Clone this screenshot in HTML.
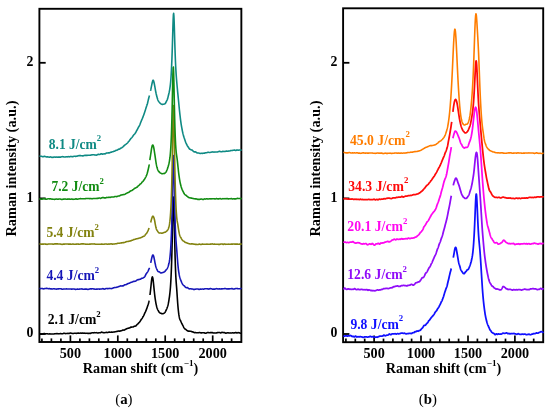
<!DOCTYPE html>
<html><head><meta charset="utf-8"><title>Raman spectra</title>
<style>
html,body{margin:0;padding:0;background:#fff;}
svg{display:block}
.t{font-family:"Liberation Serif","DejaVu Serif",serif;font-weight:bold;font-size:13.8px;}
.c{font-family:"Liberation Serif","DejaVu Serif",serif;font-size:14.8px;}
</style></head><body>
<svg width="550" height="412" viewBox="0 0 550 412">
<rect width="550" height="412" fill="#fff"/>
<rect x="39.4" y="8.8" width="201.95" height="333.20" fill="none" stroke="#000" stroke-width="1.9"/>
<line x1="41.9" y1="342.0" x2="41.9" y2="338.4" stroke="#000" stroke-width="1.7"/>
<line x1="51.4" y1="342.0" x2="51.4" y2="338.4" stroke="#000" stroke-width="1.7"/>
<line x1="60.9" y1="342.0" x2="60.9" y2="338.4" stroke="#000" stroke-width="1.7"/>
<line x1="70.4" y1="342.0" x2="70.4" y2="335.4" stroke="#000" stroke-width="1.7"/>
<line x1="79.9" y1="342.0" x2="79.9" y2="338.4" stroke="#000" stroke-width="1.7"/>
<line x1="89.4" y1="342.0" x2="89.4" y2="338.4" stroke="#000" stroke-width="1.7"/>
<line x1="98.8" y1="342.0" x2="98.8" y2="338.4" stroke="#000" stroke-width="1.7"/>
<line x1="108.3" y1="342.0" x2="108.3" y2="338.4" stroke="#000" stroke-width="1.7"/>
<line x1="117.8" y1="342.0" x2="117.8" y2="335.4" stroke="#000" stroke-width="1.7"/>
<line x1="127.3" y1="342.0" x2="127.3" y2="338.4" stroke="#000" stroke-width="1.7"/>
<line x1="136.8" y1="342.0" x2="136.8" y2="338.4" stroke="#000" stroke-width="1.7"/>
<line x1="146.3" y1="342.0" x2="146.3" y2="338.4" stroke="#000" stroke-width="1.7"/>
<line x1="155.8" y1="342.0" x2="155.8" y2="338.4" stroke="#000" stroke-width="1.7"/>
<line x1="165.2" y1="342.0" x2="165.2" y2="335.4" stroke="#000" stroke-width="1.7"/>
<line x1="174.7" y1="342.0" x2="174.7" y2="338.4" stroke="#000" stroke-width="1.7"/>
<line x1="184.2" y1="342.0" x2="184.2" y2="338.4" stroke="#000" stroke-width="1.7"/>
<line x1="193.7" y1="342.0" x2="193.7" y2="338.4" stroke="#000" stroke-width="1.7"/>
<line x1="203.2" y1="342.0" x2="203.2" y2="338.4" stroke="#000" stroke-width="1.7"/>
<line x1="212.7" y1="342.0" x2="212.7" y2="335.4" stroke="#000" stroke-width="1.7"/>
<line x1="222.1" y1="342.0" x2="222.1" y2="338.4" stroke="#000" stroke-width="1.7"/>
<line x1="231.6" y1="342.0" x2="231.6" y2="338.4" stroke="#000" stroke-width="1.7"/>
<line x1="39.4" y1="334.0" x2="45.7" y2="334.0" stroke="#000" stroke-width="1.8"/>
<text x="26.4" y="337.2" class="t" textLength="6.9" lengthAdjust="spacingAndGlyphs">0</text>
<line x1="39.4" y1="198.4" x2="45.7" y2="198.4" stroke="#000" stroke-width="1.8"/>
<text x="26.4" y="201.6" class="t" textLength="6.9" lengthAdjust="spacingAndGlyphs">1</text>
<line x1="39.4" y1="62.8" x2="45.7" y2="62.8" stroke="#000" stroke-width="1.8"/>
<text x="26.4" y="66.0" class="t" textLength="6.9" lengthAdjust="spacingAndGlyphs">2</text>
<text x="70.4" y="357.9" text-anchor="middle" class="t" textLength="21.3" lengthAdjust="spacingAndGlyphs">500</text>
<text x="117.8" y="357.9" text-anchor="middle" class="t" textLength="28.4" lengthAdjust="spacingAndGlyphs">1000</text>
<text x="165.2" y="357.9" text-anchor="middle" class="t" textLength="28.4" lengthAdjust="spacingAndGlyphs">1500</text>
<text x="212.7" y="357.9" text-anchor="middle" class="t" textLength="28.4" lengthAdjust="spacingAndGlyphs">2000</text>
<text x="82.8" y="372.9" class="t" textLength="115.4" lengthAdjust="spacingAndGlyphs">Raman shift (cm<tspan dy="-7.3" font-size="8.9">−1</tspan><tspan dy="7.3">)</tspan></text>
<text transform="translate(15.5,236.5) rotate(-90)" class="t" textLength="135.9" lengthAdjust="spacingAndGlyphs">Raman intensity (a.u.)</text>
<polyline points="39.40,334.08 39.65,334.03 39.90,333.98 40.15,333.93 40.40,333.93 40.65,333.97 40.90,334.04 41.15,334.09 41.40,334.11 41.65,334.11 41.90,334.10 42.15,334.08 42.40,334.05 42.65,334.01 42.90,333.95 43.15,333.87 43.40,333.76 43.65,333.64 43.90,333.55 44.15,333.51 44.40,333.55 44.65,333.63 44.90,333.73 45.15,333.79 45.40,333.79 45.65,333.75 45.90,333.71 46.15,333.70 46.40,333.72 46.65,333.72 46.90,333.71 47.15,333.72 47.40,333.75 47.65,333.82 47.90,333.89 48.15,333.94 48.40,333.97 48.65,333.98 48.90,333.96 49.15,333.93 49.40,333.90 49.65,333.89 49.90,333.89 50.15,333.91 50.40,333.93 50.65,333.96 50.90,333.99 51.15,334.03 51.40,334.06 51.65,334.07 51.90,334.04 52.15,333.99 52.40,333.96 52.65,333.96 52.90,333.98 53.15,334.02 53.40,334.04 53.65,334.04 53.90,334.00 54.15,333.92 54.40,333.83 54.65,333.75 54.90,333.69 55.15,333.67 55.40,333.70 55.65,333.76 55.90,333.79 56.15,333.77 56.40,333.69 56.65,333.61 56.90,333.56 57.15,333.56 57.40,333.63 57.65,333.72 57.90,333.80 58.15,333.83 58.40,333.81 58.65,333.78 58.90,333.78 59.15,333.77 59.40,333.75 59.65,333.71 59.90,333.66 60.15,333.60 60.40,333.57 60.65,333.56 60.90,333.61 61.15,333.68 61.40,333.76 61.65,333.80 61.90,333.81 62.15,333.79 62.40,333.77 62.65,333.72 62.90,333.65 63.15,333.55 63.40,333.41 63.65,333.28 63.90,333.19 64.15,333.18 64.40,333.26 64.65,333.39 64.90,333.52 65.15,333.59 65.40,333.59 65.65,333.57 65.90,333.55 66.15,333.55 66.40,333.56 66.65,333.56 66.90,333.54 67.15,333.50 67.40,333.44 67.65,333.39 67.90,333.36 68.15,333.36 68.40,333.39 68.65,333.43 68.90,333.46 69.15,333.44 69.40,333.37 69.65,333.26 69.90,333.15 70.15,333.08 70.40,333.05 70.65,333.06 70.90,333.11 71.15,333.16 71.40,333.22 71.65,333.28 71.90,333.34 72.15,333.38 72.40,333.42 72.65,333.46 72.90,333.51 73.15,333.52 73.40,333.48 73.65,333.41 73.90,333.35 74.15,333.32 74.40,333.30 74.65,333.26 74.90,333.22 75.15,333.18 75.40,333.19 75.65,333.25 75.90,333.33 76.15,333.39 76.40,333.39 76.65,333.33 76.90,333.26 77.15,333.20 77.40,333.17 77.65,333.14 77.90,333.12 78.15,333.11 78.40,333.12 78.65,333.16 78.90,333.20 79.15,333.23 79.40,333.25 79.65,333.25 79.90,333.21 80.15,333.15 80.40,333.08 80.65,333.05 80.90,333.07 81.15,333.12 81.40,333.16 81.65,333.18 81.90,333.17 82.15,333.14 82.40,333.10 82.65,333.06 82.90,333.06 83.15,333.10 83.40,333.15 83.65,333.19 83.90,333.20 84.15,333.18 84.40,333.17 84.65,333.17 84.90,333.19 85.15,333.22 85.40,333.27 85.65,333.32 85.90,333.34 86.15,333.32 86.40,333.26 86.65,333.20 86.90,333.19 87.15,333.24 87.40,333.31 87.65,333.36 87.90,333.40 88.15,333.42 88.40,333.42 88.65,333.39 88.90,333.34 89.15,333.31 89.40,333.31 89.65,333.35 89.90,333.41 90.15,333.45 90.40,333.41 90.65,333.29 90.90,333.12 91.15,333.00 91.40,332.93 91.65,332.91 91.90,332.88 92.15,332.83 92.40,332.77 92.65,332.75 92.90,332.79 93.15,332.83 93.40,332.84 93.65,332.80 93.90,332.73 94.15,332.67 94.40,332.64 94.65,332.66 94.90,332.71 95.15,332.78 95.40,332.81 95.65,332.79 95.90,332.74 96.15,332.68 96.40,332.66 96.65,332.69 96.90,332.76 97.15,332.86 97.40,332.95 97.65,333.02 97.90,333.03 98.15,332.98 98.40,332.91 98.65,332.82 98.90,332.75 99.15,332.72 99.40,332.73 99.65,332.77 99.90,332.81 100.15,332.82 100.40,332.78 100.65,332.68 100.90,332.52 101.15,332.33 101.40,332.17 101.65,332.10 101.90,332.16 102.15,332.29 102.40,332.43 102.65,332.52 102.90,332.57 103.15,332.60 103.40,332.64 103.65,332.67 103.90,332.69 104.15,332.70 104.40,332.70 104.65,332.70 104.90,332.66 105.15,332.59 105.40,332.53 105.65,332.49 105.90,332.45 106.15,332.42 106.40,332.38 106.65,332.38 106.90,332.41 107.15,332.49 107.40,332.56 107.65,332.58 107.90,332.52 108.15,332.40 108.40,332.26 108.65,332.16 108.90,332.11 109.15,332.11 109.40,332.11 109.65,332.13 109.90,332.17 110.15,332.23 110.40,332.29 110.65,332.32 110.90,332.29 111.15,332.21 111.40,332.12 111.65,332.06 111.90,332.08 112.15,332.16 112.40,332.22 112.65,332.24 112.90,332.18 113.15,332.09 113.40,332.00 113.65,331.95 113.90,331.94 114.15,331.95 114.40,331.94 114.65,331.90 114.90,331.83 115.15,331.77 115.40,331.75 115.65,331.74 115.90,331.69 116.15,331.60 116.40,331.51 116.65,331.44 116.90,331.41 117.15,331.39 117.40,331.35 117.65,331.28 117.90,331.19 118.15,331.11 118.40,331.05 118.65,331.03 118.90,331.05 119.15,331.10 119.40,331.14 119.65,331.16 119.90,331.12 120.15,331.04 120.40,330.94 120.65,330.86 120.90,330.81 121.15,330.80 121.40,330.79 121.65,330.73 121.90,330.61 122.15,330.44 122.40,330.27 122.65,330.13 122.90,330.06 123.15,330.04 123.40,330.06 123.65,330.10 123.90,330.12 124.15,330.10 124.40,330.04 124.65,329.91 124.90,329.73 125.15,329.51 125.40,329.32 125.65,329.19 125.90,329.13 126.15,329.06 126.40,328.95 126.65,328.78 126.90,328.63 127.15,328.52 127.40,328.45 127.65,328.40 127.90,328.34 128.15,328.26 128.40,328.18 128.65,328.11 128.90,328.07 129.15,328.06 129.40,328.03 129.65,327.95 129.90,327.80 130.15,327.58 130.40,327.37 130.65,327.20 130.90,327.12 131.15,327.12 131.40,327.13 131.65,327.12 131.90,327.05 132.15,326.98 132.40,326.96 132.65,327.00 132.90,327.05 133.15,327.02 133.40,326.89 133.65,326.69 133.90,326.51 134.15,326.36 134.40,326.26 134.65,326.18 134.90,326.14 135.15,326.12 135.40,326.10 135.65,326.02 135.90,325.86 136.15,325.63 136.40,325.35 136.65,325.06 136.90,324.76 137.15,324.47 137.40,324.23 137.65,324.03 137.90,323.86 138.15,323.67 138.40,323.42 138.65,323.10 138.90,322.77 139.15,322.47 139.40,322.19 139.65,321.92 139.90,321.62 140.15,321.26 140.40,320.86 140.65,320.44 140.90,320.05 141.15,319.68 141.40,319.33 141.65,318.99 141.90,318.65 142.15,318.27 142.40,317.84 142.65,317.37 142.90,316.92 143.15,316.50 143.40,316.10 143.65,315.66 143.90,315.15 144.15,314.58 144.40,314.00 144.65,313.45 144.90,312.94 145.15,312.45 145.40,311.95 145.65,311.39 145.90,310.78 146.15,310.14 146.40,309.49 146.65,308.84 146.90,308.18 147.15,307.49 147.40,306.78 147.65,306.05 147.90,305.33 148.15,304.57 148.40,303.74 148.65,302.79 148.90,301.68 149.10,300.65" fill="none" stroke="#000000" stroke-width="1.6" stroke-linejoin="round"/>
<polyline points="149.95,295.02 150.15,293.50 150.40,291.40 150.65,289.13 150.90,286.72 151.15,284.28 151.40,281.93 151.65,279.86 151.90,278.23 152.15,277.18 152.40,276.86 152.65,277.30 152.90,278.48 153.15,280.26 153.40,282.44 153.65,284.85 153.90,287.35 154.15,289.83 154.40,292.23 154.65,294.48 154.90,296.58 155.15,298.49 155.40,300.21 155.65,301.73 155.90,303.08 156.15,304.32 156.40,305.45 156.65,306.48 156.90,307.39 157.15,308.20 157.40,308.90 157.65,309.50 157.90,310.01 158.15,310.47 158.40,310.92 158.65,311.37 158.90,311.80 159.15,312.18 159.40,312.48 159.65,312.73 159.90,312.93 160.15,313.08 160.40,313.16 160.65,313.20 160.90,313.23 161.15,313.33 161.40,313.48 161.65,313.63 161.90,313.72 162.15,313.73 162.40,313.71 162.65,313.67 162.90,313.63 163.15,313.60 163.40,313.56 163.65,313.50 163.90,313.38 164.15,313.21 164.40,312.99 164.65,312.75 164.90,312.50 165.15,312.18 165.40,311.77 165.65,311.25 165.90,310.68 166.15,310.11 166.40,309.57 166.65,309.03 166.90,308.44 167.15,307.79 167.40,307.10 167.65,306.32 167.90,305.44 168.15,304.42 168.40,303.21 168.65,301.83 168.90,300.33 169.15,298.74 169.40,297.03 169.65,295.14 169.90,293.00 170.15,290.52 170.40,287.59 170.65,284.08 170.90,279.86 171.15,274.77 171.40,268.66 171.65,261.39 171.90,252.84 172.15,242.96 172.40,231.94 172.65,220.40 172.90,209.57 173.15,201.20 173.40,197.11 173.65,198.37 173.90,204.71 174.15,214.69 174.40,226.40 174.65,238.22 174.90,249.11 175.15,258.56 175.40,266.45 175.65,272.85 175.90,277.90 176.15,281.85 176.40,285.10 176.65,288.18 176.90,291.57 177.15,295.33 177.40,299.16 177.65,302.73 177.90,305.88 178.15,308.62 178.40,311.02 178.65,313.09 178.90,314.88 179.15,316.40 179.40,317.71 179.65,318.74 179.90,319.48 180.15,320.02 180.40,320.44 180.65,320.87 180.90,321.40 181.15,322.04 181.40,322.64 181.65,323.17 181.90,323.66 182.15,324.14 182.40,324.60 182.65,325.05 182.90,325.52 183.15,326.01 183.40,326.52 183.65,327.04 183.90,327.53 184.15,327.98 184.40,328.38 184.65,328.70 184.90,328.92 185.15,329.05 185.40,329.15 185.65,329.29 185.90,329.50 186.15,329.76 186.40,330.02 186.65,330.23 186.90,330.41 187.15,330.56 187.40,330.73 187.65,330.90 187.90,331.05 188.15,331.13 188.40,331.15 188.65,331.13 188.90,331.10 189.15,331.10 189.40,331.14 189.65,331.22 189.90,331.29 190.15,331.32 190.40,331.32 190.65,331.31 190.90,331.32 191.15,331.37 191.40,331.47 191.65,331.62 191.90,331.78 192.15,331.88 192.40,331.92 192.65,331.91 192.90,331.91 193.15,331.96 193.40,332.08 193.65,332.27 193.90,332.46 194.15,332.58 194.40,332.63 194.65,332.61 194.90,332.57 195.15,332.54 195.40,332.56 195.65,332.62 195.90,332.68 196.15,332.73 196.40,332.74 196.65,332.74 196.90,332.76 197.15,332.78 197.40,332.77 197.65,332.74 197.90,332.69 198.15,332.68 198.40,332.68 198.65,332.68 198.90,332.64 199.15,332.58 199.40,332.53 199.65,332.53 199.90,332.57 200.15,332.65 200.40,332.75 200.65,332.83 200.90,332.89 201.15,332.90 201.40,332.90 201.65,332.86 201.90,332.81 202.15,332.75 202.40,332.71 202.65,332.71 202.90,332.74 203.15,332.77 203.40,332.78 203.65,332.77 203.90,332.78 204.15,332.81 204.40,332.86 204.65,332.94 204.90,333.06 205.15,333.20 205.40,333.30 205.65,333.31 205.90,333.24 206.15,333.13 206.40,333.01 206.65,332.90 206.90,332.79 207.15,332.70 207.40,332.61 207.65,332.53 207.90,332.48 208.15,332.49 208.40,332.55 208.65,332.64 208.90,332.71 209.15,332.77 209.40,332.78 209.65,332.75 209.90,332.70 210.15,332.65 210.40,332.63 210.65,332.65 210.90,332.66 211.15,332.66 211.40,332.64 211.65,332.61 211.90,332.58 212.15,332.56 212.40,332.57 212.65,332.65 212.90,332.79 213.15,332.93 213.40,333.02 213.65,333.05 213.90,333.04 214.15,333.00 214.40,332.96 214.65,332.93 214.90,332.92 215.15,332.94 215.40,332.98 215.65,333.02 215.90,333.06 216.15,333.03 216.40,332.94 216.65,332.81 216.90,332.70 217.15,332.66 217.40,332.67 217.65,332.67 217.90,332.63 218.15,332.57 218.40,332.50 218.65,332.46 218.90,332.45 219.15,332.43 219.40,332.43 219.65,332.47 219.90,332.57 220.15,332.72 220.40,332.86 220.65,332.93 220.90,332.87 221.15,332.72 221.40,332.55 221.65,332.42 221.90,332.37 222.15,332.38 222.40,332.40 222.65,332.43 222.90,332.47 223.15,332.53 223.40,332.58 223.65,332.62 223.90,332.63 224.15,332.61 224.40,332.59 224.65,332.62 224.90,332.73 225.15,332.92 225.40,333.11 225.65,333.24 225.90,333.25 226.15,333.18 226.40,333.09 226.65,333.00 226.90,332.93 227.15,332.86 227.40,332.80 227.65,332.76 227.90,332.74 228.15,332.75 228.40,332.81 228.65,332.90 228.90,332.97 229.15,333.01 229.40,332.99 229.65,332.96 229.90,332.92 230.15,332.91 230.40,332.93 230.65,332.98 230.90,333.03 231.15,333.05 231.40,333.03 231.65,332.98 231.90,332.92 232.15,332.86 232.40,332.80 232.65,332.76 232.90,332.78 233.15,332.85 233.40,332.94 233.65,333.01 233.90,333.01 234.15,332.96 234.40,332.90 234.65,332.84 234.90,332.78 235.15,332.69 235.40,332.60 235.65,332.54 235.90,332.55 236.15,332.62 236.40,332.75 236.65,332.89 236.90,332.98 237.15,332.97 237.40,332.87 237.65,332.75 237.90,332.66 238.15,332.63 238.40,332.64 238.65,332.67 238.90,332.71 239.15,332.78 239.40,332.86 239.65,332.96 239.90,333.05 240.15,333.12 240.40,333.18 240.65,333.22 240.90,333.24 241.15,333.23 241.40,333.19 241.65,333.15" fill="none" stroke="#000000" stroke-width="1.6" stroke-linejoin="round"/>
<text x="47.8" y="324.1" class="t" fill="#000000" textLength="52.9" lengthAdjust="spacingAndGlyphs">2.1 J/cm<tspan dy="-7.5" font-size="8.9">2</tspan></text>
<polyline points="39.40,288.55 39.65,288.56 39.90,288.58 40.15,288.62 40.40,288.64 40.65,288.63 40.90,288.58 41.15,288.51 41.40,288.47 41.65,288.47 41.90,288.51 42.15,288.55 42.40,288.59 42.65,288.63 42.90,288.68 43.15,288.75 43.40,288.82 43.65,288.87 43.90,288.86 44.15,288.78 44.40,288.69 44.65,288.62 44.90,288.58 45.15,288.55 45.40,288.52 45.65,288.48 45.90,288.43 46.15,288.38 46.40,288.33 46.65,288.32 46.90,288.36 47.15,288.42 47.40,288.48 47.65,288.52 47.90,288.57 48.15,288.63 48.40,288.69 48.65,288.73 48.90,288.72 49.15,288.69 49.40,288.65 49.65,288.63 49.90,288.66 50.15,288.73 50.40,288.81 50.65,288.88 50.90,288.91 51.15,288.90 51.40,288.90 51.65,288.92 51.90,288.96 52.15,288.99 52.40,288.98 52.65,288.93 52.90,288.89 53.15,288.84 53.40,288.78 53.65,288.72 53.90,288.68 54.15,288.71 54.40,288.78 54.65,288.87 54.90,288.94 55.15,288.97 55.40,288.99 55.65,289.02 55.90,289.07 56.15,289.11 56.40,289.12 56.65,289.09 56.90,289.04 57.15,288.99 57.40,288.94 57.65,288.92 57.90,288.91 58.15,288.90 58.40,288.88 58.65,288.86 58.90,288.83 59.15,288.80 59.40,288.78 59.65,288.78 59.90,288.79 60.15,288.80 60.40,288.81 60.65,288.81 60.90,288.81 61.15,288.84 61.40,288.90 61.65,289.02 61.90,289.16 62.15,289.26 62.40,289.28 62.65,289.23 62.90,289.16 63.15,289.10 63.40,289.07 63.65,289.05 63.90,289.05 64.15,289.06 64.40,289.07 64.65,289.07 64.90,289.05 65.15,289.03 65.40,289.01 65.65,289.00 65.90,288.97 66.15,288.92 66.40,288.88 66.65,288.88 66.90,288.94 67.15,289.00 67.40,289.04 67.65,289.05 67.90,289.02 68.15,288.99 68.40,288.96 68.65,288.96 68.90,288.97 69.15,288.97 69.40,288.96 69.65,288.95 69.90,288.95 70.15,288.94 70.40,288.95 70.65,288.97 70.90,289.02 71.15,289.08 71.40,289.13 71.65,289.14 71.90,289.12 72.15,289.09 72.40,289.05 72.65,289.01 72.90,288.98 73.15,288.96 73.40,288.95 73.65,288.96 73.90,288.99 74.15,289.03 74.40,289.10 74.65,289.18 74.90,289.27 75.15,289.34 75.40,289.39 75.65,289.39 75.90,289.37 76.15,289.33 76.40,289.30 76.65,289.28 76.90,289.25 77.15,289.19 77.40,289.12 77.65,289.09 77.90,289.13 78.15,289.18 78.40,289.22 78.65,289.23 78.90,289.22 79.15,289.19 79.40,289.13 79.65,289.07 79.90,289.02 80.15,289.00 80.40,289.01 80.65,289.02 80.90,289.01 81.15,288.97 81.40,288.92 81.65,288.88 81.90,288.87 82.15,288.92 82.40,289.02 82.65,289.13 82.90,289.21 83.15,289.25 83.40,289.26 83.65,289.25 83.90,289.24 84.15,289.23 84.40,289.20 84.65,289.16 84.90,289.12 85.15,289.09 85.40,289.08 85.65,289.10 85.90,289.11 86.15,289.12 86.40,289.13 86.65,289.14 86.90,289.18 87.15,289.25 87.40,289.33 87.65,289.41 87.90,289.44 88.15,289.42 88.40,289.34 88.65,289.25 88.90,289.18 89.15,289.13 89.40,289.08 89.65,289.01 89.90,288.92 90.15,288.85 90.40,288.81 90.65,288.81 90.90,288.85 91.15,288.89 91.40,288.91 91.65,288.90 91.90,288.84 92.15,288.76 92.40,288.70 92.65,288.69 92.90,288.75 93.15,288.86 93.40,288.96 93.65,289.02 93.90,289.04 94.15,289.05 94.40,289.08 94.65,289.13 94.90,289.21 95.15,289.27 95.40,289.29 95.65,289.25 95.90,289.20 96.15,289.16 96.40,289.15 96.65,289.17 96.90,289.19 97.15,289.18 97.40,289.13 97.65,289.08 97.90,289.04 98.15,289.01 98.40,288.98 98.65,288.96 98.90,288.98 99.15,289.04 99.40,289.13 99.65,289.18 99.90,289.16 100.15,289.08 100.40,289.01 100.65,288.97 100.90,288.97 101.15,288.99 101.40,289.01 101.65,289.00 101.90,288.95 102.15,288.85 102.40,288.73 102.65,288.65 102.90,288.63 103.15,288.69 103.40,288.80 103.65,288.94 103.90,289.06 104.15,289.12 104.40,289.12 104.65,289.07 104.90,288.99 105.15,288.90 105.40,288.80 105.65,288.71 105.90,288.63 106.15,288.58 106.40,288.53 106.65,288.50 106.90,288.51 107.15,288.55 107.40,288.61 107.65,288.65 107.90,288.66 108.15,288.63 108.40,288.57 108.65,288.50 108.90,288.45 109.15,288.44 109.40,288.43 109.65,288.42 109.90,288.42 110.15,288.44 110.40,288.47 110.65,288.53 110.90,288.57 111.15,288.60 111.40,288.58 111.65,288.54 111.90,288.50 112.15,288.44 112.40,288.35 112.65,288.22 112.90,288.07 113.15,287.95 113.40,287.86 113.65,287.80 113.90,287.74 114.15,287.66 114.40,287.57 114.65,287.49 114.90,287.46 115.15,287.46 115.40,287.49 115.65,287.51 115.90,287.50 116.15,287.45 116.40,287.36 116.65,287.27 116.90,287.18 117.15,287.10 117.40,287.04 117.65,286.98 117.90,286.90 118.15,286.80 118.40,286.69 118.65,286.60 118.90,286.53 119.15,286.47 119.40,286.40 119.65,286.28 119.90,286.13 120.15,285.99 120.40,285.91 120.65,285.91 120.90,285.95 121.15,285.97 121.40,285.96 121.65,285.92 121.90,285.89 122.15,285.89 122.40,285.91 122.65,285.92 122.90,285.91 123.15,285.86 123.40,285.75 123.65,285.58 123.90,285.38 124.15,285.18 124.40,285.00 124.65,284.85 124.90,284.76 125.15,284.72 125.40,284.71 125.65,284.69 125.90,284.64 126.15,284.54 126.40,284.43 126.65,284.32 126.90,284.21 127.15,284.07 127.40,283.89 127.65,283.72 127.90,283.58 128.15,283.50 128.40,283.45 128.65,283.39 128.90,283.32 129.15,283.24 129.40,283.15 129.65,283.04 129.90,282.89 130.15,282.74 130.40,282.61 130.65,282.51 130.90,282.44 131.15,282.36 131.40,282.28 131.65,282.20 131.90,282.12 132.15,282.03 132.40,281.92 132.65,281.80 132.90,281.67 133.15,281.54 133.40,281.44 133.65,281.39 133.90,281.38 134.15,281.37 134.40,281.36 134.65,281.33 134.90,281.28 135.15,281.24 135.40,281.18 135.65,281.08 135.90,280.93 136.15,280.74 136.40,280.54 136.65,280.35 136.90,280.18 137.15,280.01 137.40,279.86 137.65,279.73 137.90,279.64 138.15,279.62 138.40,279.63 138.65,279.64 138.90,279.60 139.15,279.50 139.40,279.39 139.65,279.30 139.90,279.25 140.15,279.22 140.40,279.16 140.65,279.04 140.90,278.85 141.15,278.63 141.40,278.46 141.65,278.36 141.90,278.31 142.15,278.28 142.40,278.23 142.65,278.15 142.90,278.04 143.15,277.89 143.40,277.72 143.65,277.54 143.90,277.39 144.15,277.26 144.40,277.07 144.65,276.81 144.90,276.46 145.15,276.01 145.40,275.47 145.65,274.90 145.90,274.35 146.15,273.87 146.40,273.48 146.65,273.15 146.90,272.82 147.15,272.46 147.40,272.11 147.65,271.73 147.90,271.33 148.15,270.86 148.40,270.30 148.65,269.74 148.90,269.20 149.15,268.63 149.40,267.97 149.46,267.78" fill="none" stroke="#1616b8" stroke-width="1.6" stroke-linejoin="round"/>
<polyline points="150.70,262.89 150.90,261.99 151.15,260.84 151.40,259.68 151.65,258.52 151.90,257.43 152.15,256.45 152.40,255.69 152.65,255.19 152.90,255.02 153.15,255.20 153.40,255.65 153.65,256.33 153.90,257.23 154.15,258.34 154.40,259.62 154.65,260.98 154.90,262.28 155.15,263.49 155.40,264.63 155.65,265.72 155.90,266.70 156.15,267.53 156.40,268.22 156.65,268.81 156.90,269.33 157.15,269.83 157.40,270.33 157.65,270.81 157.90,271.20 158.15,271.50 158.40,271.69 158.65,271.78 158.90,271.80 159.15,271.81 159.40,271.89 159.65,272.05 159.90,272.28 160.15,272.52 160.40,272.72 160.65,272.87 160.90,272.94 161.15,272.93 161.40,272.87 161.65,272.79 161.90,272.72 162.15,272.67 162.40,272.63 162.65,272.57 162.90,272.49 163.15,272.39 163.40,272.29 163.65,272.20 163.90,272.11 164.15,272.00 164.40,271.84 164.65,271.64 164.90,271.40 165.15,271.15 165.40,270.87 165.65,270.54 165.90,270.19 166.15,269.86 166.40,269.56 166.65,269.28 166.90,268.96 167.15,268.56 167.40,268.09 167.65,267.56 167.90,266.96 168.15,266.26 168.40,265.44 168.65,264.53 168.90,263.57 169.15,262.50 169.40,261.24 169.65,259.67 169.90,257.73 170.15,255.39 170.40,252.59 170.65,249.24 170.90,245.20 171.15,240.31 171.40,234.33 171.65,226.99 171.90,218.03 172.15,207.32 172.40,195.03 172.65,181.86 172.90,169.34 173.15,159.79 173.40,155.64 173.65,158.11 173.90,166.40 174.15,178.23 174.40,191.14 174.65,203.38 174.90,214.05 175.15,222.81 175.40,229.72 175.65,235.04 175.90,239.15 176.15,242.51 176.40,245.54 176.65,248.60 176.90,251.84 177.15,255.21 177.40,258.56 177.65,261.73 177.90,264.62 178.15,267.16 178.40,269.37 178.65,271.29 178.90,272.97 179.15,274.42 179.40,275.66 179.65,276.72 179.90,277.63 180.15,278.44 180.40,279.17 180.65,279.85 180.90,280.49 181.15,281.12 181.40,281.74 181.65,282.34 181.90,282.89 182.15,283.38 182.40,283.82 182.65,284.24 182.90,284.63 183.15,284.95 183.40,285.20 183.65,285.40 183.90,285.56 184.15,285.75 184.40,285.99 184.65,286.29 184.90,286.61 185.15,286.91 185.40,287.15 185.65,287.35 185.90,287.51 186.15,287.62 186.40,287.67 186.65,287.64 186.90,287.59 187.15,287.55 187.40,287.59 187.65,287.70 187.90,287.87 188.15,288.09 188.40,288.32 188.65,288.54 188.90,288.72 189.15,288.83 189.40,288.86 189.65,288.84 189.90,288.81 190.15,288.79 190.40,288.77 190.65,288.77 190.90,288.80 191.15,288.87 191.40,288.95 191.65,289.01 191.90,289.02 192.15,288.99 192.40,288.98 192.65,289.03 192.90,289.15 193.15,289.30 193.40,289.39 193.65,289.41 193.90,289.38 194.15,289.35 194.40,289.34 194.65,289.35 194.90,289.34 195.15,289.31 195.40,289.24 195.65,289.14 195.90,289.04 196.15,288.97 196.40,288.94 196.65,288.96 196.90,289.00 197.15,289.04 197.40,289.07 197.65,289.07 197.90,289.06 198.15,289.10 198.40,289.19 198.65,289.30 198.90,289.38 199.15,289.40 199.40,289.36 199.65,289.29 199.90,289.21 200.15,289.15 200.40,289.13 200.65,289.15 200.90,289.20 201.15,289.21 201.40,289.17 201.65,289.09 201.90,289.00 202.15,288.94 202.40,288.93 202.65,288.96 202.90,289.04 203.15,289.13 203.40,289.20 203.65,289.20 203.90,289.14 204.15,289.02 204.40,288.88 204.65,288.79 204.90,288.77 205.15,288.80 205.40,288.82 205.65,288.81 205.90,288.78 206.15,288.75 206.40,288.74 206.65,288.76 206.90,288.79 207.15,288.82 207.40,288.83 207.65,288.81 207.90,288.83 208.15,288.89 208.40,289.00 208.65,289.09 208.90,289.12 209.15,289.06 209.40,288.92 209.65,288.77 209.90,288.65 210.15,288.58 210.40,288.58 210.65,288.62 210.90,288.68 211.15,288.72 211.40,288.76 211.65,288.80 211.90,288.88 212.15,288.99 212.40,289.10 212.65,289.16 212.90,289.18 213.15,289.17 213.40,289.15 213.65,289.14 213.90,289.13 214.15,289.13 214.40,289.13 214.65,289.13 214.90,289.11 215.15,289.05 215.40,288.97 215.65,288.87 215.90,288.76 216.15,288.69 216.40,288.65 216.65,288.66 216.90,288.71 217.15,288.77 217.40,288.84 217.65,288.92 217.90,288.99 218.15,289.01 218.40,288.98 218.65,288.93 218.90,288.87 219.15,288.84 219.40,288.84 219.65,288.87 219.90,288.91 220.15,288.94 220.40,288.94 220.65,288.93 220.90,288.91 221.15,288.90 221.40,288.88 221.65,288.87 221.90,288.87 222.15,288.86 222.40,288.84 222.65,288.82 222.90,288.81 223.15,288.82 223.40,288.82 223.65,288.80 223.90,288.76 224.15,288.70 224.40,288.63 224.65,288.56 224.90,288.51 225.15,288.52 225.40,288.57 225.65,288.64 225.90,288.70 226.15,288.75 226.40,288.81 226.65,288.88 226.90,288.93 227.15,288.94 227.40,288.92 227.65,288.90 227.90,288.90 228.15,288.92 228.40,288.92 228.65,288.89 228.90,288.86 229.15,288.84 229.40,288.84 229.65,288.83 229.90,288.80 230.15,288.77 230.40,288.77 230.65,288.77 230.90,288.76 231.15,288.72 231.40,288.64 231.65,288.57 231.90,288.55 232.15,288.59 232.40,288.68 232.65,288.79 232.90,288.90 233.15,288.99 233.40,289.05 233.65,289.08 233.90,289.07 234.15,289.03 234.40,288.96 234.65,288.88 234.90,288.80 235.15,288.72 235.40,288.64 235.65,288.58 235.90,288.53 236.15,288.52 236.40,288.52 236.65,288.52 236.90,288.54 237.15,288.57 237.40,288.61 237.65,288.64 237.90,288.66 238.15,288.68 238.40,288.70 238.65,288.74 238.90,288.77 239.15,288.79 239.40,288.80 239.65,288.80 239.90,288.80 240.15,288.78 240.40,288.72 240.65,288.65 240.90,288.56 241.15,288.50 241.40,288.50 241.65,288.55" fill="none" stroke="#1616b8" stroke-width="1.6" stroke-linejoin="round"/>
<text x="46.4" y="280.2" class="t" fill="#1616b8" textLength="52.8" lengthAdjust="spacingAndGlyphs">4.4 J/cm<tspan dy="-7.5" font-size="8.9">2</tspan></text>
<polyline points="39.40,243.99 39.65,243.98 39.90,243.99 40.15,244.02 40.40,244.05 40.65,244.09 40.90,244.13 41.15,244.17 41.40,244.18 41.65,244.16 41.90,244.11 42.15,244.08 42.40,244.07 42.65,244.08 42.90,244.10 43.15,244.11 43.40,244.11 43.65,244.10 43.90,244.07 44.15,244.04 44.40,244.02 44.65,244.04 44.90,244.08 45.15,244.11 45.40,244.11 45.65,244.10 45.90,244.11 46.15,244.15 46.40,244.22 46.65,244.30 46.90,244.34 47.15,244.35 47.40,244.31 47.65,244.24 47.90,244.15 48.15,244.07 48.40,244.02 48.65,243.98 48.90,243.97 49.15,243.97 49.40,243.99 49.65,244.01 49.90,244.02 50.15,244.03 50.40,244.02 50.65,244.01 50.90,244.00 51.15,244.00 51.40,244.01 51.65,244.02 51.90,244.03 52.15,244.03 52.40,244.05 52.65,244.10 52.90,244.16 53.15,244.20 53.40,244.22 53.65,244.19 53.90,244.12 54.15,244.02 54.40,243.92 54.65,243.86 54.90,243.85 55.15,243.87 55.40,243.91 55.65,243.92 55.90,243.92 56.15,243.90 56.40,243.89 56.65,243.88 56.90,243.87 57.15,243.85 57.40,243.85 57.65,243.88 57.90,243.94 58.15,244.00 58.40,244.04 58.65,244.04 58.90,244.01 59.15,243.97 59.40,243.96 59.65,243.97 59.90,244.00 60.15,244.03 60.40,244.07 60.65,244.12 60.90,244.18 61.15,244.24 61.40,244.29 61.65,244.33 61.90,244.35 62.15,244.36 62.40,244.35 62.65,244.32 62.90,244.27 63.15,244.21 63.40,244.14 63.65,244.10 63.90,244.07 64.15,244.08 64.40,244.09 64.65,244.09 64.90,244.07 65.15,244.03 65.40,244.01 65.65,244.00 65.90,243.99 66.15,243.98 66.40,243.96 66.65,243.96 66.90,243.98 67.15,244.01 67.40,244.03 67.65,244.05 67.90,244.07 68.15,244.09 68.40,244.11 68.65,244.12 68.90,244.13 69.15,244.12 69.40,244.09 69.65,244.07 69.90,244.08 70.15,244.11 70.40,244.15 70.65,244.17 70.90,244.17 71.15,244.18 71.40,244.21 71.65,244.25 71.90,244.25 72.15,244.19 72.40,244.10 72.65,244.01 72.90,243.98 73.15,244.01 73.40,244.08 73.65,244.17 73.90,244.23 74.15,244.25 74.40,244.27 74.65,244.27 74.90,244.26 75.15,244.23 75.40,244.20 75.65,244.18 75.90,244.16 76.15,244.14 76.40,244.12 76.65,244.09 76.90,244.06 77.15,244.03 77.40,244.02 77.65,244.05 77.90,244.10 78.15,244.15 78.40,244.17 78.65,244.17 78.90,244.17 79.15,244.18 79.40,244.20 79.65,244.20 79.90,244.17 80.15,244.11 80.40,244.04 80.65,243.99 80.90,243.95 81.15,243.93 81.40,243.92 81.65,243.91 81.90,243.87 82.15,243.84 82.40,243.83 82.65,243.84 82.90,243.87 83.15,243.89 83.40,243.90 83.65,243.92 83.90,243.94 84.15,243.97 84.40,244.01 84.65,244.04 84.90,244.08 85.15,244.11 85.40,244.14 85.65,244.17 85.90,244.20 86.15,244.21 86.40,244.21 86.65,244.19 86.90,244.17 87.15,244.16 87.40,244.18 87.65,244.21 87.90,244.26 88.15,244.30 88.40,244.31 88.65,244.29 88.90,244.25 89.15,244.19 89.40,244.16 89.65,244.16 89.90,244.16 90.15,244.15 90.40,244.12 90.65,244.08 90.90,244.04 91.15,244.01 91.40,243.97 91.65,243.94 91.90,243.92 92.15,243.92 92.40,243.95 92.65,243.98 92.90,244.00 93.15,244.01 93.40,243.99 93.65,243.96 93.90,243.92 94.15,243.90 94.40,243.92 94.65,243.97 94.90,244.06 95.15,244.15 95.40,244.23 95.65,244.27 95.90,244.26 96.15,244.22 96.40,244.20 96.65,244.21 96.90,244.24 97.15,244.28 97.40,244.31 97.65,244.32 97.90,244.32 98.15,244.30 98.40,244.28 98.65,244.25 98.90,244.24 99.15,244.24 99.40,244.24 99.65,244.26 99.90,244.26 100.15,244.26 100.40,244.24 100.65,244.22 100.90,244.20 101.15,244.16 101.40,244.10 101.65,244.07 101.90,244.08 102.15,244.14 102.40,244.20 102.65,244.22 102.90,244.21 103.15,244.21 103.40,244.21 103.65,244.23 103.90,244.22 104.15,244.19 104.40,244.14 104.65,244.07 104.90,244.01 105.15,243.95 105.40,243.93 105.65,243.93 105.90,243.96 106.15,244.00 106.40,244.04 106.65,244.09 106.90,244.15 107.15,244.21 107.40,244.23 107.65,244.22 107.90,244.18 108.15,244.13 108.40,244.09 108.65,244.07 108.90,244.07 109.15,244.08 109.40,244.08 109.65,244.06 109.90,244.02 110.15,243.97 110.40,243.92 110.65,243.89 110.90,243.87 111.15,243.87 111.40,243.90 111.65,243.96 111.90,244.03 112.15,244.10 112.40,244.14 112.65,244.14 112.90,244.12 113.15,244.08 113.40,244.04 113.65,243.99 113.90,243.97 114.15,243.96 114.40,243.96 114.65,243.94 114.90,243.90 115.15,243.84 115.40,243.79 115.65,243.75 115.90,243.74 116.15,243.72 116.40,243.70 116.65,243.65 116.90,243.58 117.15,243.48 117.40,243.40 117.65,243.34 117.90,243.31 118.15,243.29 118.40,243.27 118.65,243.24 118.90,243.24 119.15,243.24 119.40,243.23 119.65,243.19 119.90,243.14 120.15,243.08 120.40,243.03 120.65,242.99 120.90,242.95 121.15,242.92 121.40,242.91 121.65,242.90 121.90,242.87 122.15,242.83 122.40,242.76 122.65,242.70 122.90,242.66 123.15,242.64 123.40,242.64 123.65,242.63 123.90,242.59 124.15,242.53 124.40,242.46 124.65,242.41 124.90,242.34 125.15,242.25 125.40,242.11 125.65,241.97 125.90,241.84 126.15,241.74 126.40,241.66 126.65,241.60 126.90,241.57 127.15,241.55 127.40,241.54 127.65,241.53 127.90,241.50 128.15,241.46 128.40,241.40 128.65,241.32 128.90,241.25 129.15,241.18 129.40,241.12 129.65,241.05 129.90,240.97 130.15,240.93 130.40,240.90 130.65,240.88 130.90,240.82 131.15,240.70 131.40,240.55 131.65,240.41 131.90,240.32 132.15,240.28 132.40,240.25 132.65,240.16 132.90,240.02 133.15,239.86 133.40,239.71 133.65,239.60 133.90,239.53 134.15,239.48 134.40,239.45 134.65,239.41 134.90,239.35 135.15,239.28 135.40,239.19 135.65,239.08 135.90,238.97 136.15,238.87 136.40,238.80 136.65,238.75 136.90,238.71 137.15,238.67 137.40,238.63 137.65,238.58 137.90,238.53 138.15,238.48 138.40,238.42 138.65,238.33 138.90,238.21 139.15,238.11 139.40,238.07 139.65,238.06 139.90,238.05 140.15,237.98 140.40,237.87 140.65,237.73 140.90,237.60 141.15,237.48 141.40,237.39 141.65,237.30 141.90,237.20 142.15,237.08 142.40,236.92 142.65,236.76 142.90,236.61 143.15,236.48 143.40,236.38 143.65,236.31 143.90,236.25 144.15,236.15 144.40,235.96 144.65,235.70 144.90,235.37 145.15,235.02 145.40,234.67 145.65,234.35 145.90,234.05 146.15,233.78 146.40,233.50 146.65,233.19 146.90,232.83 147.15,232.41 147.40,231.96 147.65,231.47 147.90,230.95 148.15,230.39 148.40,229.79 148.65,229.13 148.90,228.46 149.10,227.91" fill="none" stroke="#82820f" stroke-width="1.6" stroke-linejoin="round"/>
<polyline points="150.70,222.44 150.90,221.60 151.15,220.59 151.40,219.63 151.65,218.74 151.90,217.94 152.15,217.25 152.40,216.69 152.65,216.31 152.90,216.18 153.15,216.28 153.40,216.62 153.65,217.15 153.90,217.79 154.15,218.57 154.40,219.50 154.65,220.59 154.90,222.01 155.15,223.56 155.40,224.91 155.65,226.17 155.90,227.32 156.15,228.31 156.40,229.09 156.65,229.70 156.90,230.18 157.15,230.56 157.40,230.89 157.65,231.22 157.90,231.61 158.15,231.99 158.40,232.32 158.65,232.58 158.90,232.78 159.15,232.93 159.40,233.03 159.65,233.08 159.90,233.07 160.15,233.03 160.40,232.96 160.65,232.93 160.90,232.97 161.15,233.06 161.40,233.18 161.65,233.28 161.90,233.32 162.15,233.27 162.40,233.14 162.65,233.01 162.90,232.91 163.15,232.83 163.40,232.76 163.65,232.67 163.90,232.55 164.15,232.43 164.40,232.33 164.65,232.26 164.90,232.22 165.15,232.19 165.40,232.12 165.65,231.96 165.90,231.74 166.15,231.50 166.40,231.28 166.65,231.10 166.90,230.91 167.15,230.66 167.40,230.33 167.65,229.96 167.90,229.56 168.15,229.11 168.40,228.57 168.65,227.89 168.90,227.03 169.15,225.97 169.40,224.68 169.65,223.13 169.90,221.20 170.15,218.80 170.40,215.85 170.65,212.26 170.90,207.88 171.15,202.51 171.40,195.93 171.65,187.85 171.90,178.03 172.15,166.27 172.40,152.67 172.65,137.84 172.90,123.30 173.15,111.57 173.40,105.50 173.65,106.90 173.90,115.34 174.15,128.45 174.40,143.36 174.65,157.88 174.90,170.86 175.15,181.92 175.40,191.10 175.65,198.64 175.90,204.78 176.15,209.73 176.40,213.67 176.65,216.76 176.90,219.12 177.15,220.91 177.40,222.33 177.65,223.68 177.90,225.17 178.15,226.85 178.40,228.58 178.65,230.19 178.90,231.62 179.15,232.87 179.40,233.96 179.65,234.91 179.90,235.70 180.15,236.32 180.40,236.81 180.65,237.25 180.90,237.68 181.15,238.13 181.40,238.59 181.65,239.02 181.90,239.42 182.15,239.78 182.40,240.11 182.65,240.39 182.90,240.62 183.15,240.82 183.40,240.99 183.65,241.14 183.90,241.28 184.15,241.42 184.40,241.60 184.65,241.83 184.90,242.08 185.15,242.29 185.40,242.44 185.65,242.53 185.90,242.59 186.15,242.65 186.40,242.73 186.65,242.83 186.90,242.94 187.15,243.05 187.40,243.13 187.65,243.22 187.90,243.31 188.15,243.40 188.40,243.50 188.65,243.59 188.90,243.66 189.15,243.71 189.40,243.77 189.65,243.86 189.90,243.96 190.15,244.04 190.40,244.05 190.65,244.00 190.90,243.93 191.15,243.88 191.40,243.88 191.65,243.90 191.90,243.92 192.15,243.92 192.40,243.91 192.65,243.92 192.90,243.95 193.15,244.00 193.40,244.06 193.65,244.10 193.90,244.12 194.15,244.13 194.40,244.17 194.65,244.24 194.90,244.32 195.15,244.37 195.40,244.37 195.65,244.34 195.90,244.33 196.15,244.35 196.40,244.40 196.65,244.46 196.90,244.50 197.15,244.51 197.40,244.51 197.65,244.49 197.90,244.46 198.15,244.41 198.40,244.35 198.65,244.29 198.90,244.24 199.15,244.19 199.40,244.15 199.65,244.14 199.90,244.18 200.15,244.29 200.40,244.41 200.65,244.50 200.90,244.51 201.15,244.46 201.40,244.37 201.65,244.29 201.90,244.21 202.15,244.16 202.40,244.14 202.65,244.14 202.90,244.16 203.15,244.19 203.40,244.23 203.65,244.27 203.90,244.28 204.15,244.28 204.40,244.25 204.65,244.22 204.90,244.20 205.15,244.21 205.40,244.24 205.65,244.27 205.90,244.28 206.15,244.24 206.40,244.18 206.65,244.14 206.90,244.12 207.15,244.13 207.40,244.16 207.65,244.18 207.90,244.21 208.15,244.23 208.40,244.26 208.65,244.29 208.90,244.30 209.15,244.29 209.40,244.27 209.65,244.24 209.90,244.20 210.15,244.16 210.40,244.13 210.65,244.11 210.90,244.11 211.15,244.11 211.40,244.08 211.65,244.02 211.90,243.94 212.15,243.89 212.40,243.91 212.65,244.00 212.90,244.10 213.15,244.18 213.40,244.21 213.65,244.19 213.90,244.16 214.15,244.12 214.40,244.11 214.65,244.13 214.90,244.17 215.15,244.22 215.40,244.26 215.65,244.27 215.90,244.27 216.15,244.26 216.40,244.26 216.65,244.27 216.90,244.26 217.15,244.24 217.40,244.23 217.65,244.23 217.90,244.26 218.15,244.30 218.40,244.35 218.65,244.38 218.90,244.41 219.15,244.42 219.40,244.42 219.65,244.40 219.90,244.35 220.15,244.25 220.40,244.15 220.65,244.08 220.90,244.06 221.15,244.07 221.40,244.06 221.65,244.03 221.90,244.00 222.15,243.99 222.40,244.04 222.65,244.15 222.90,244.29 223.15,244.39 223.40,244.40 223.65,244.31 223.90,244.14 224.15,243.99 224.40,243.92 224.65,243.97 224.90,244.08 225.15,244.20 225.40,244.29 225.65,244.33 225.90,244.33 226.15,244.30 226.40,244.25 226.65,244.20 226.90,244.18 227.15,244.21 227.40,244.26 227.65,244.28 227.90,244.26 228.15,244.21 228.40,244.18 228.65,244.16 228.90,244.17 229.15,244.19 229.40,244.21 229.65,244.22 229.90,244.22 230.15,244.21 230.40,244.19 230.65,244.18 230.90,244.17 231.15,244.17 231.40,244.16 231.65,244.13 231.90,244.10 232.15,244.09 232.40,244.10 232.65,244.10 232.90,244.09 233.15,244.05 233.40,244.00 233.65,243.97 233.90,243.96 234.15,243.99 234.40,244.04 234.65,244.10 234.90,244.14 235.15,244.16 235.40,244.16 235.65,244.15 235.90,244.15 236.15,244.16 236.40,244.15 236.65,244.14 236.90,244.12 237.15,244.11 237.40,244.13 237.65,244.15 237.90,244.20 238.15,244.25 238.40,244.30 238.65,244.33 238.90,244.29 239.15,244.22 239.40,244.13 239.65,244.08 239.90,244.09 240.15,244.12 240.40,244.15 240.65,244.16 240.90,244.15 241.15,244.14 241.40,244.14 241.65,244.15" fill="none" stroke="#82820f" stroke-width="1.6" stroke-linejoin="round"/>
<text x="46.4" y="237.2" class="t" fill="#82820f" textLength="52.4" lengthAdjust="spacingAndGlyphs">5.4 J/cm<tspan dy="-7.5" font-size="8.9">2</tspan></text>
<polyline points="39.40,198.83 39.65,198.87 39.90,198.96 40.15,199.08 40.40,199.18 40.65,199.24 40.90,199.27 41.15,199.29 41.40,199.29 41.65,199.27 41.90,199.21 42.15,199.13 42.40,199.05 42.65,198.97 42.90,198.88 43.15,198.77 43.40,198.66 43.65,198.57 43.90,198.54 44.15,198.57 44.40,198.64 44.65,198.74 44.90,198.85 45.15,198.97 45.40,199.09 45.65,199.19 45.90,199.23 46.15,199.23 46.40,199.19 46.65,199.16 46.90,199.12 47.15,199.08 47.40,199.01 47.65,198.91 47.90,198.83 48.15,198.77 48.40,198.73 48.65,198.73 48.90,198.76 49.15,198.80 49.40,198.85 49.65,198.86 49.90,198.84 50.15,198.81 50.40,198.80 50.65,198.85 50.90,198.92 51.15,198.99 51.40,199.05 51.65,199.09 51.90,199.11 52.15,199.14 52.40,199.16 52.65,199.19 52.90,199.21 53.15,199.23 53.40,199.24 53.65,199.27 53.90,199.30 54.15,199.34 54.40,199.36 54.65,199.36 54.90,199.33 55.15,199.29 55.40,199.22 55.65,199.15 55.90,199.10 56.15,199.07 56.40,199.06 56.65,199.07 56.90,199.10 57.15,199.15 57.40,199.20 57.65,199.20 57.90,199.19 58.15,199.18 58.40,199.15 58.65,199.10 58.90,199.03 59.15,198.96 59.40,198.93 59.65,198.93 59.90,198.96 60.15,199.02 60.40,199.09 60.65,199.17 60.90,199.24 61.15,199.31 61.40,199.37 61.65,199.42 61.90,199.43 62.15,199.41 62.40,199.37 62.65,199.31 62.90,199.25 63.15,199.20 63.40,199.16 63.65,199.16 63.90,199.16 64.15,199.14 64.40,199.08 64.65,199.00 64.90,198.94 65.15,198.93 65.40,198.98 65.65,199.06 65.90,199.15 66.15,199.22 66.40,199.24 66.65,199.22 66.90,199.19 67.15,199.16 67.40,199.15 67.65,199.16 67.90,199.17 68.15,199.16 68.40,199.11 68.65,199.07 68.90,199.06 69.15,199.07 69.40,199.10 69.65,199.13 69.90,199.16 70.15,199.19 70.40,199.21 70.65,199.20 70.90,199.17 71.15,199.12 71.40,199.07 71.65,199.04 71.90,199.04 72.15,199.10 72.40,199.19 72.65,199.28 72.90,199.33 73.15,199.34 73.40,199.32 73.65,199.30 73.90,199.30 74.15,199.31 74.40,199.31 74.65,199.27 74.90,199.20 75.15,199.10 75.40,198.99 75.65,198.90 75.90,198.84 76.15,198.86 76.40,198.96 76.65,199.09 76.90,199.20 77.15,199.24 77.40,199.22 77.65,199.15 77.90,199.07 78.15,199.00 78.40,198.95 78.65,198.92 78.90,198.88 79.15,198.83 79.40,198.79 79.65,198.76 79.90,198.73 80.15,198.69 80.40,198.66 80.65,198.65 80.90,198.67 81.15,198.71 81.40,198.76 81.65,198.79 81.90,198.79 82.15,198.76 82.40,198.74 82.65,198.72 82.90,198.71 83.15,198.72 83.40,198.73 83.65,198.75 83.90,198.79 84.15,198.82 84.40,198.81 84.65,198.78 84.90,198.74 85.15,198.70 85.40,198.66 85.65,198.60 85.90,198.56 86.15,198.53 86.40,198.52 86.65,198.53 86.90,198.53 87.15,198.52 87.40,198.51 87.65,198.52 87.90,198.54 88.15,198.57 88.40,198.57 88.65,198.53 88.90,198.49 89.15,198.50 89.40,198.57 89.65,198.65 89.90,198.70 90.15,198.67 90.40,198.60 90.65,198.53 90.90,198.52 91.15,198.57 91.40,198.65 91.65,198.72 91.90,198.76 92.15,198.77 92.40,198.73 92.65,198.66 92.90,198.57 93.15,198.50 93.40,198.49 93.65,198.53 93.90,198.57 94.15,198.57 94.40,198.53 94.65,198.50 94.90,198.50 95.15,198.52 95.40,198.54 95.65,198.55 95.90,198.53 96.15,198.50 96.40,198.46 96.65,198.42 96.90,198.40 97.15,198.40 97.40,198.40 97.65,198.39 97.90,198.37 98.15,198.34 98.40,198.28 98.65,198.19 98.90,198.09 99.15,198.02 99.40,197.99 99.65,198.03 99.90,198.13 100.15,198.25 100.40,198.36 100.65,198.40 100.90,198.32 101.15,198.17 101.40,197.98 101.65,197.83 101.90,197.72 102.15,197.66 102.40,197.64 102.65,197.62 102.90,197.59 103.15,197.57 103.40,197.59 103.65,197.65 103.90,197.75 104.15,197.86 104.40,197.92 104.65,197.93 104.90,197.90 105.15,197.88 105.40,197.87 105.65,197.86 105.90,197.80 106.15,197.69 106.40,197.56 106.65,197.45 106.90,197.41 107.15,197.42 107.40,197.46 107.65,197.48 107.90,197.48 108.15,197.45 108.40,197.39 108.65,197.34 108.90,197.31 109.15,197.30 109.40,197.33 109.65,197.37 109.90,197.41 110.15,197.40 110.40,197.35 110.65,197.25 110.90,197.14 111.15,197.05 111.40,197.02 111.65,197.02 111.90,197.04 112.15,197.06 112.40,197.06 112.65,197.05 112.90,197.04 113.15,197.02 113.40,197.00 113.65,196.98 113.90,196.93 114.15,196.85 114.40,196.73 114.65,196.60 114.90,196.51 115.15,196.48 115.40,196.50 115.65,196.52 115.90,196.55 116.15,196.57 116.40,196.59 116.65,196.60 116.90,196.58 117.15,196.53 117.40,196.43 117.65,196.28 117.90,196.12 118.15,195.99 118.40,195.93 118.65,195.93 118.90,195.95 119.15,195.96 119.40,195.92 119.65,195.81 119.90,195.64 120.15,195.46 120.40,195.30 120.65,195.20 120.90,195.13 121.15,195.07 121.40,195.01 121.65,194.95 121.90,194.90 122.15,194.87 122.40,194.83 122.65,194.78 122.90,194.71 123.15,194.64 123.40,194.59 123.65,194.56 123.90,194.55 124.15,194.52 124.40,194.48 124.65,194.40 124.90,194.28 125.15,194.14 125.40,193.97 125.65,193.79 125.90,193.63 126.15,193.48 126.40,193.35 126.65,193.23 126.90,193.10 127.15,192.96 127.40,192.83 127.65,192.71 127.90,192.63 128.15,192.54 128.40,192.44 128.65,192.33 128.90,192.20 129.15,192.06 129.40,191.87 129.65,191.65 129.90,191.42 130.15,191.21 130.40,191.05 130.65,190.94 130.90,190.85 131.15,190.77 131.40,190.69 131.65,190.60 131.90,190.48 132.15,190.33 132.40,190.14 132.65,189.95 132.90,189.78 133.15,189.61 133.40,189.45 133.65,189.26 133.90,189.02 134.15,188.74 134.40,188.47 134.65,188.29 134.90,188.19 135.15,188.13 135.40,188.05 135.65,187.92 135.90,187.76 136.15,187.59 136.40,187.45 136.65,187.35 136.90,187.26 137.15,187.12 137.40,186.89 137.65,186.59 137.90,186.27 138.15,185.97 138.40,185.74 138.65,185.54 138.90,185.36 139.15,185.16 139.40,184.90 139.65,184.62 139.90,184.35 140.15,184.13 140.40,183.95 140.65,183.78 140.90,183.59 141.15,183.35 141.40,183.05 141.65,182.71 141.90,182.36 142.15,182.04 142.40,181.80 142.65,181.61 142.90,181.40 143.15,181.13 143.40,180.80 143.65,180.42 143.90,180.06 144.15,179.71 144.40,179.35 144.65,178.98 144.90,178.57 145.15,178.15 145.40,177.70 145.65,177.24 145.90,176.76 146.15,176.25 146.40,175.69 146.65,175.08 146.90,174.38 147.15,173.59 147.40,172.70 147.65,171.74 147.90,170.73 148.15,169.69 148.40,168.62 148.65,167.51 148.90,166.30 149.15,164.96 149.24,164.38" fill="none" stroke="#128c12" stroke-width="1.6" stroke-linejoin="round"/>
<polyline points="149.83,160.06 149.90,159.56 150.15,157.99 150.40,156.40 150.65,154.75 150.90,153.05 151.15,151.33 151.40,149.67 151.65,148.16 151.90,146.89 152.15,145.91 152.40,145.27 152.65,145.00 152.90,145.08 153.15,145.50 153.40,146.23 153.65,147.24 153.90,148.50 154.15,149.97 154.40,151.57 154.65,153.25 154.90,154.95 155.15,156.67 155.40,158.37 155.65,160.08 155.90,161.75 156.15,163.30 156.40,164.70 156.65,165.91 156.90,166.96 157.15,167.86 157.40,168.66 157.65,169.37 157.90,170.03 158.15,170.57 158.40,171.02 158.65,171.38 158.90,171.67 159.15,171.92 159.40,172.16 159.65,172.41 159.90,172.65 160.15,172.84 160.40,172.99 160.65,173.11 160.90,173.24 161.15,173.37 161.40,173.50 161.65,173.62 161.90,173.70 162.15,173.75 162.40,173.76 162.65,173.73 162.90,173.66 163.15,173.58 163.40,173.52 163.65,173.52 163.90,173.56 164.15,173.58 164.40,173.54 164.65,173.40 164.90,173.19 165.15,172.94 165.40,172.71 165.65,172.46 165.90,172.17 166.15,171.78 166.40,171.30 166.65,170.75 166.90,170.17 167.15,169.54 167.40,168.86 167.65,168.12 167.90,167.35 168.15,166.56 168.40,165.70 168.65,164.77 168.90,163.75 169.15,162.60 169.40,161.28 169.65,159.75 169.90,157.97 170.15,155.81 170.40,153.15 170.65,149.88 170.90,145.89 171.15,141.02 171.40,135.01 171.65,127.63 171.90,118.69 172.15,108.15 172.40,96.36 172.65,84.34 172.90,73.96 173.15,67.59 173.40,67.06 173.65,72.57 173.90,82.50 174.15,94.49 174.40,106.53 174.65,117.41 174.90,126.65 175.15,134.21 175.40,140.23 175.65,144.97 175.90,148.70 176.15,151.59 176.40,153.86 176.65,155.72 176.90,157.42 177.15,159.17 177.40,161.16 177.65,163.40 177.90,165.80 178.15,168.24 178.40,170.60 178.65,172.81 178.90,174.85 179.15,176.72 179.40,178.42 179.65,179.97 179.90,181.37 180.15,182.63 180.40,183.77 180.65,184.81 180.90,185.77 181.15,186.65 181.40,187.44 181.65,188.19 181.90,188.90 182.15,189.57 182.40,190.18 182.65,190.72 182.90,191.20 183.15,191.65 183.40,192.10 183.65,192.57 183.90,193.05 184.15,193.51 184.40,193.92 184.65,194.26 184.90,194.53 185.15,194.75 185.40,194.92 185.65,195.07 185.90,195.24 186.15,195.44 186.40,195.65 186.65,195.87 186.90,196.09 187.15,196.29 187.40,196.48 187.65,196.68 187.90,196.89 188.15,197.10 188.40,197.30 188.65,197.45 188.90,197.56 189.15,197.64 189.40,197.69 189.65,197.73 189.90,197.79 190.15,197.86 190.40,197.95 190.65,198.03 190.90,198.07 191.15,198.09 191.40,198.10 191.65,198.12 191.90,198.16 192.15,198.23 192.40,198.31 192.65,198.40 192.90,198.48 193.15,198.53 193.40,198.58 193.65,198.63 193.90,198.69 194.15,198.75 194.40,198.79 194.65,198.83 194.90,198.86 195.15,198.89 195.40,198.91 195.65,198.92 195.90,198.90 196.15,198.90 196.40,198.91 196.65,198.97 196.90,199.07 197.15,199.20 197.40,199.31 197.65,199.38 197.90,199.40 198.15,199.40 198.40,199.40 198.65,199.41 198.90,199.41 199.15,199.41 199.40,199.40 199.65,199.38 199.90,199.34 200.15,199.27 200.40,199.19 200.65,199.12 200.90,199.07 201.15,199.04 201.40,199.04 201.65,199.07 201.90,199.14 202.15,199.24 202.40,199.34 202.65,199.44 202.90,199.51 203.15,199.54 203.40,199.51 203.65,199.38 203.90,199.18 204.15,199.00 204.40,198.90 204.65,198.91 204.90,198.99 205.15,199.07 205.40,199.09 205.65,199.06 205.90,198.98 206.15,198.88 206.40,198.81 206.65,198.79 206.90,198.82 207.15,198.85 207.40,198.89 207.65,198.93 207.90,198.98 208.15,199.03 208.40,199.06 208.65,199.03 208.90,198.95 209.15,198.84 209.40,198.77 209.65,198.77 209.90,198.80 210.15,198.84 210.40,198.84 210.65,198.81 210.90,198.79 211.15,198.79 211.40,198.81 211.65,198.84 211.90,198.84 212.15,198.80 212.40,198.73 212.65,198.69 212.90,198.70 213.15,198.75 213.40,198.78 213.65,198.78 213.90,198.77 214.15,198.77 214.40,198.82 214.65,198.90 214.90,198.95 215.15,198.96 215.40,198.91 215.65,198.82 215.90,198.73 216.15,198.65 216.40,198.60 216.65,198.60 216.90,198.66 217.15,198.75 217.40,198.83 217.65,198.88 217.90,198.89 218.15,198.87 218.40,198.85 218.65,198.83 218.90,198.83 219.15,198.81 219.40,198.76 219.65,198.69 219.90,198.61 220.15,198.59 220.40,198.63 220.65,198.73 220.90,198.84 221.15,198.92 221.40,198.96 221.65,198.96 221.90,198.92 222.15,198.85 222.40,198.76 222.65,198.68 222.90,198.65 223.15,198.67 223.40,198.72 223.65,198.77 223.90,198.80 224.15,198.78 224.40,198.73 224.65,198.67 224.90,198.63 225.15,198.65 225.40,198.71 225.65,198.78 225.90,198.81 226.15,198.78 226.40,198.70 226.65,198.60 226.90,198.54 227.15,198.54 227.40,198.60 227.65,198.70 227.90,198.80 228.15,198.86 228.40,198.88 228.65,198.86 228.90,198.83 229.15,198.80 229.40,198.79 229.65,198.79 229.90,198.80 230.15,198.82 230.40,198.79 230.65,198.72 230.90,198.62 231.15,198.56 231.40,198.57 231.65,198.64 231.90,198.76 232.15,198.87 232.40,198.94 232.65,198.95 232.90,198.91 233.15,198.86 233.40,198.82 233.65,198.80 233.90,198.81 234.15,198.83 234.40,198.86 234.65,198.88 234.90,198.89 235.15,198.89 235.40,198.89 235.65,198.88 235.90,198.86 236.15,198.81 236.40,198.72 236.65,198.61 236.90,198.51 237.15,198.44 237.40,198.41 237.65,198.41 237.90,198.42 238.15,198.44 238.40,198.49 238.65,198.53 238.90,198.56 239.15,198.55 239.40,198.51 239.65,198.47 239.90,198.45 240.15,198.49 240.40,198.57 240.65,198.64 240.90,198.66 241.15,198.62 241.40,198.55 241.65,198.52" fill="none" stroke="#128c12" stroke-width="1.6" stroke-linejoin="round"/>
<text x="51.5" y="191.0" class="t" fill="#128c12" textLength="52.3" lengthAdjust="spacingAndGlyphs">7.2 J/cm<tspan dy="-7.5" font-size="8.9">2</tspan></text>
<polyline points="39.40,156.22 39.65,156.19 39.90,156.21 40.15,156.26 40.40,156.31 40.65,156.31 40.90,156.26 41.15,156.22 41.40,156.23 41.65,156.32 41.90,156.45 42.15,156.57 42.40,156.64 42.65,156.68 42.90,156.69 43.15,156.69 43.40,156.64 43.65,156.55 43.90,156.44 44.15,156.35 44.40,156.29 44.65,156.31 44.90,156.39 45.15,156.50 45.40,156.61 45.65,156.70 45.90,156.77 46.15,156.83 46.40,156.89 46.65,156.94 46.90,156.93 47.15,156.88 47.40,156.83 47.65,156.84 47.90,156.91 48.15,156.99 48.40,157.04 48.65,157.07 48.90,157.10 49.15,157.15 49.40,157.19 49.65,157.17 49.90,157.09 50.15,156.97 50.40,156.88 50.65,156.87 50.90,156.97 51.15,157.13 51.40,157.28 51.65,157.35 51.90,157.35 52.15,157.31 52.40,157.30 52.65,157.34 52.90,157.38 53.15,157.35 53.40,157.25 53.65,157.10 53.90,156.98 54.15,156.94 54.40,156.98 54.65,157.06 54.90,157.13 55.15,157.17 55.40,157.19 55.65,157.16 55.90,157.11 56.15,157.06 56.40,157.04 56.65,157.07 56.90,157.14 57.15,157.19 57.40,157.19 57.65,157.15 57.90,157.11 58.15,157.09 58.40,157.09 58.65,157.11 58.90,157.12 59.15,157.12 59.40,157.11 59.65,157.10 59.90,157.10 60.15,157.11 60.40,157.13 60.65,157.13 60.90,157.08 61.15,156.98 61.40,156.86 61.65,156.75 61.90,156.68 62.15,156.66 62.40,156.66 62.65,156.69 62.90,156.73 63.15,156.78 63.40,156.83 63.65,156.89 63.90,156.95 64.15,156.99 64.40,157.01 64.65,157.01 64.90,156.99 65.15,156.96 65.40,156.92 65.65,156.87 65.90,156.81 66.15,156.77 66.40,156.78 66.65,156.82 66.90,156.88 67.15,156.89 67.40,156.85 67.65,156.78 67.90,156.70 68.15,156.65 68.40,156.63 68.65,156.67 68.90,156.74 69.15,156.82 69.40,156.85 69.65,156.82 69.90,156.73 70.15,156.60 70.40,156.49 70.65,156.43 70.90,156.42 71.15,156.45 71.40,156.52 71.65,156.61 71.90,156.70 72.15,156.73 72.40,156.70 72.65,156.65 72.90,156.60 73.15,156.55 73.40,156.50 73.65,156.41 73.90,156.33 74.15,156.26 74.40,156.23 74.65,156.24 74.90,156.27 75.15,156.32 75.40,156.37 75.65,156.38 75.90,156.36 76.15,156.30 76.40,156.24 76.65,156.19 76.90,156.15 77.15,156.12 77.40,156.05 77.65,155.97 77.90,155.87 78.15,155.79 78.40,155.72 78.65,155.66 78.90,155.60 79.15,155.59 79.40,155.62 79.65,155.66 79.90,155.66 80.15,155.63 80.40,155.59 80.65,155.60 80.90,155.66 81.15,155.74 81.40,155.80 81.65,155.82 81.90,155.82 82.15,155.82 82.40,155.85 82.65,155.90 82.90,155.91 83.15,155.85 83.40,155.75 83.65,155.64 83.90,155.55 84.15,155.48 84.40,155.43 84.65,155.40 84.90,155.41 85.15,155.42 85.40,155.42 85.65,155.39 85.90,155.36 86.15,155.33 86.40,155.33 86.65,155.35 86.90,155.37 87.15,155.36 87.40,155.34 87.65,155.32 87.90,155.32 88.15,155.30 88.40,155.27 88.65,155.24 88.90,155.25 89.15,155.28 89.40,155.29 89.65,155.27 89.90,155.25 90.15,155.24 90.40,155.21 90.65,155.14 90.90,155.06 91.15,154.99 91.40,154.95 91.65,154.91 91.90,154.87 92.15,154.84 92.40,154.82 92.65,154.81 92.90,154.79 93.15,154.77 93.40,154.76 93.65,154.75 93.90,154.77 94.15,154.82 94.40,154.89 94.65,154.94 94.90,154.98 95.15,154.99 95.40,155.02 95.65,155.06 95.90,155.11 96.15,155.14 96.40,155.12 96.65,155.04 96.90,154.93 97.15,154.81 97.40,154.68 97.65,154.55 97.90,154.40 98.15,154.30 98.40,154.29 98.65,154.35 98.90,154.43 99.15,154.46 99.40,154.46 99.65,154.42 99.90,154.37 100.15,154.30 100.40,154.17 100.65,154.01 100.90,153.85 101.15,153.74 101.40,153.73 101.65,153.82 101.90,153.95 102.15,154.08 102.40,154.14 102.65,154.13 102.90,154.08 103.15,154.03 103.40,153.98 103.65,153.93 103.90,153.88 104.15,153.83 104.40,153.81 104.65,153.82 104.90,153.86 105.15,153.86 105.40,153.77 105.65,153.59 105.90,153.38 106.15,153.20 106.40,153.08 106.65,153.04 106.90,153.04 107.15,153.06 107.40,153.06 107.65,153.02 107.90,152.95 108.15,152.89 108.40,152.86 108.65,152.87 108.90,152.90 109.15,152.91 109.40,152.85 109.65,152.73 109.90,152.58 110.15,152.44 110.40,152.36 110.65,152.33 110.90,152.32 111.15,152.30 111.40,152.23 111.65,152.08 111.90,151.90 112.15,151.77 112.40,151.73 112.65,151.74 112.90,151.72 113.15,151.64 113.40,151.50 113.65,151.37 113.90,151.28 114.15,151.22 114.40,151.18 114.65,151.11 114.90,150.99 115.15,150.82 115.40,150.63 115.65,150.49 115.90,150.41 116.15,150.37 116.40,150.33 116.65,150.27 116.90,150.21 117.15,150.12 117.40,149.99 117.65,149.83 117.90,149.65 118.15,149.47 118.40,149.32 118.65,149.20 118.90,149.14 119.15,149.13 119.40,149.12 119.65,149.05 119.90,148.89 120.15,148.66 120.40,148.41 120.65,148.23 120.90,148.14 121.15,148.08 121.40,148.00 121.65,147.87 121.90,147.67 122.15,147.45 122.40,147.25 122.65,147.07 122.90,146.89 123.15,146.69 123.40,146.44 123.65,146.16 123.90,145.87 124.15,145.60 124.40,145.37 124.65,145.17 124.90,145.01 125.15,144.87 125.40,144.70 125.65,144.49 125.90,144.26 126.15,144.05 126.40,143.86 126.65,143.66 126.90,143.46 127.15,143.25 127.40,143.04 127.65,142.78 127.90,142.45 128.15,142.10 128.40,141.78 128.65,141.50 128.90,141.23 129.15,140.93 129.40,140.60 129.65,140.25 129.90,139.90 130.15,139.55 130.40,139.20 130.65,138.87 130.90,138.56 131.15,138.27 131.40,138.00 131.65,137.73 131.90,137.44 132.15,137.13 132.40,136.80 132.65,136.46 132.90,136.10 133.15,135.73 133.40,135.35 133.65,135.01 133.90,134.72 134.15,134.46 134.40,134.21 134.65,133.95 134.90,133.67 135.15,133.38 135.40,133.06 135.65,132.65 135.90,132.16 136.15,131.64 136.40,131.14 136.65,130.68 136.90,130.24 137.15,129.79 137.40,129.33 137.65,128.87 137.90,128.42 138.15,127.95 138.40,127.47 138.65,126.98 138.90,126.51 139.15,126.07 139.40,125.63 139.65,125.14 139.90,124.58 140.15,123.93 140.40,123.24 140.65,122.57 140.90,121.96 141.15,121.37 141.40,120.76 141.65,120.15 141.90,119.55 142.15,118.98 142.40,118.42 142.65,117.81 142.90,117.16 143.15,116.49 143.40,115.83 143.65,115.17 143.90,114.48 144.15,113.75 144.40,113.01 144.65,112.27 144.90,111.52 145.15,110.75 145.40,109.96 145.65,109.14 145.90,108.31 146.15,107.47 146.40,106.70 146.65,106.00 146.90,105.34 147.15,104.60 147.40,103.73 147.65,102.73 147.90,101.66 148.15,100.57 148.40,99.51 148.65,98.48 148.90,97.50 149.15,96.60 149.40,95.75 149.46,95.55" fill="none" stroke="#0f8a84" stroke-width="1.6" stroke-linejoin="round"/>
<polyline points="150.55,90.82 150.65,90.31 150.90,89.18 151.15,87.91 151.40,86.67 151.65,85.44 151.90,84.20 152.15,82.99 152.40,81.89 152.65,81.02 152.90,80.44 153.15,80.23 153.40,80.44 153.65,81.05 153.90,81.95 154.15,83.02 154.40,84.23 154.65,85.54 154.90,86.95 155.15,88.41 155.40,89.86 155.65,91.24 155.90,92.52 156.15,93.71 156.40,94.78 156.65,95.76 156.90,96.68 157.15,97.59 157.40,98.49 157.65,99.33 157.90,100.04 158.15,100.60 158.40,101.03 158.65,101.39 158.90,101.73 159.15,102.04 159.40,102.34 159.65,102.61 159.90,102.88 160.15,103.13 160.40,103.36 160.65,103.57 160.90,103.77 161.15,103.94 161.40,104.09 161.65,104.22 161.90,104.33 162.15,104.41 162.40,104.42 162.65,104.37 162.90,104.29 163.15,104.22 163.40,104.19 163.65,104.18 163.90,104.16 164.15,104.08 164.40,103.99 164.65,103.88 164.90,103.76 165.15,103.60 165.40,103.35 165.65,102.96 165.90,102.48 166.15,101.94 166.40,101.38 166.65,100.87 166.90,100.40 167.15,99.93 167.40,99.37 167.65,98.60 167.90,97.63 168.15,96.57 168.40,95.50 168.65,94.47 168.90,93.47 169.15,92.38 169.40,91.15 169.65,89.78 169.90,88.22 170.15,86.44 170.40,84.34 170.65,81.81 170.90,78.74 171.15,74.96 171.40,70.49 171.65,65.41 171.90,59.49 172.15,52.59 172.40,44.72 172.65,36.14 172.90,27.48 173.15,19.82 173.40,14.68 173.65,13.34 173.90,15.99 174.15,21.90 174.40,29.75 174.65,38.22 174.90,46.41 175.15,53.82 175.40,60.26 175.65,65.75 175.90,70.40 176.15,74.36 176.40,77.79 176.65,80.87 176.90,83.73 177.15,86.48 177.40,89.16 177.65,91.81 177.90,94.40 178.15,96.94 178.40,99.47 178.65,102.03 178.90,104.64 179.15,107.25 179.40,109.76 179.65,112.13 179.90,114.36 180.15,116.51 180.40,118.58 180.65,120.55 180.90,122.39 181.15,124.08 181.40,125.64 181.65,127.09 181.90,128.45 182.15,129.77 182.40,131.05 182.65,132.27 182.90,133.40 183.15,134.41 183.40,135.32 183.65,136.17 183.90,137.01 184.15,137.82 184.40,138.56 184.65,139.26 184.90,139.96 185.15,140.69 185.40,141.43 185.65,142.13 185.90,142.75 186.15,143.30 186.40,143.82 186.65,144.34 186.90,144.87 187.15,145.41 187.40,145.91 187.65,146.32 187.90,146.65 188.15,146.93 188.40,147.23 188.65,147.60 188.90,148.05 189.15,148.51 189.40,148.89 189.65,149.14 189.90,149.28 190.15,149.36 190.40,149.46 190.65,149.59 190.90,149.73 191.15,149.84 191.40,149.90 191.65,149.93 191.90,149.96 192.15,150.06 192.40,150.26 192.65,150.53 192.90,150.85 193.15,151.15 193.40,151.41 193.65,151.60 193.90,151.74 194.15,151.83 194.40,151.89 194.65,151.90 194.90,151.89 195.15,151.87 195.40,151.88 195.65,151.96 195.90,152.10 196.15,152.27 196.40,152.45 196.65,152.64 196.90,152.83 197.15,152.96 197.40,153.02 197.65,153.01 197.90,152.97 198.15,152.94 198.40,152.95 198.65,153.00 198.90,153.08 199.15,153.15 199.40,153.22 199.65,153.30 199.90,153.39 200.15,153.47 200.40,153.48 200.65,153.43 200.90,153.34 201.15,153.28 201.40,153.28 201.65,153.32 201.90,153.37 202.15,153.38 202.40,153.36 202.65,153.33 202.90,153.31 203.15,153.29 203.40,153.23 203.65,153.16 203.90,153.10 204.15,153.10 204.40,153.13 204.65,153.13 204.90,153.06 205.15,152.92 205.40,152.79 205.65,152.71 205.90,152.69 206.15,152.71 206.40,152.72 206.65,152.70 206.90,152.64 207.15,152.57 207.40,152.47 207.65,152.36 207.90,152.27 208.15,152.24 208.40,152.25 208.65,152.30 208.90,152.36 209.15,152.41 209.40,152.46 209.65,152.51 209.90,152.52 210.15,152.47 210.40,152.37 210.65,152.27 210.90,152.21 211.15,152.18 211.40,152.14 211.65,152.07 211.90,151.98 212.15,151.92 212.40,151.91 212.65,151.98 212.90,152.06 213.15,152.11 213.40,152.09 213.65,152.04 213.90,152.00 214.15,152.00 214.40,152.04 214.65,152.09 214.90,152.10 215.15,152.06 215.40,152.01 215.65,151.99 215.90,151.99 216.15,152.00 216.40,152.00 216.65,151.98 216.90,151.97 217.15,151.98 217.40,151.99 217.65,151.95 217.90,151.85 218.15,151.72 218.40,151.61 218.65,151.54 218.90,151.47 219.15,151.39 219.40,151.34 219.65,151.34 219.90,151.39 220.15,151.47 220.40,151.56 220.65,151.63 220.90,151.68 221.15,151.70 221.40,151.70 221.65,151.71 221.90,151.69 222.15,151.62 222.40,151.50 222.65,151.38 222.90,151.34 223.15,151.36 223.40,151.43 223.65,151.50 223.90,151.54 224.15,151.53 224.40,151.50 224.65,151.44 224.90,151.40 225.15,151.37 225.40,151.34 225.65,151.30 225.90,151.24 226.15,151.17 226.40,151.10 226.65,151.07 226.90,151.11 227.15,151.20 227.40,151.29 227.65,151.32 227.90,151.27 228.15,151.16 228.40,151.04 228.65,150.97 228.90,150.95 229.15,150.98 229.40,151.00 229.65,150.99 229.90,150.92 230.15,150.81 230.40,150.68 230.65,150.56 230.90,150.49 231.15,150.48 231.40,150.52 231.65,150.57 231.90,150.58 232.15,150.55 232.40,150.48 232.65,150.38 232.90,150.30 233.15,150.25 233.40,150.22 233.65,150.20 233.90,150.15 234.15,150.09 234.40,150.05 234.65,150.07 234.90,150.17 235.15,150.32 235.40,150.45 235.65,150.52 235.90,150.49 236.15,150.37 236.40,150.21 236.65,150.06 236.90,150.00 237.15,150.00 237.40,150.06 237.65,150.11 237.90,150.15 238.15,150.17 238.40,150.18 238.65,150.16 238.90,150.11 239.15,150.04 239.40,149.99 239.65,149.97 239.90,150.00 240.15,150.05 240.40,150.09 240.65,150.13 240.90,150.13 241.15,150.10 241.40,150.06 241.65,150.02" fill="none" stroke="#0f8a84" stroke-width="1.6" stroke-linejoin="round"/>
<text x="48.8" y="148.8" class="t" fill="#0f8a84" textLength="52.4" lengthAdjust="spacingAndGlyphs">8.1 J/cm<tspan dy="-7.5" font-size="8.9">2</tspan></text>
<rect x="343.1" y="8.3" width="200.10" height="333.90" fill="none" stroke="#000" stroke-width="1.9"/>
<line x1="345.9" y1="342.2" x2="345.9" y2="338.6" stroke="#000" stroke-width="1.7"/>
<line x1="355.3" y1="342.2" x2="355.3" y2="338.6" stroke="#000" stroke-width="1.7"/>
<line x1="364.7" y1="342.2" x2="364.7" y2="338.6" stroke="#000" stroke-width="1.7"/>
<line x1="374.1" y1="342.2" x2="374.1" y2="335.6" stroke="#000" stroke-width="1.7"/>
<line x1="383.5" y1="342.2" x2="383.5" y2="338.6" stroke="#000" stroke-width="1.7"/>
<line x1="392.9" y1="342.2" x2="392.9" y2="338.6" stroke="#000" stroke-width="1.7"/>
<line x1="402.3" y1="342.2" x2="402.3" y2="338.6" stroke="#000" stroke-width="1.7"/>
<line x1="411.6" y1="342.2" x2="411.6" y2="338.6" stroke="#000" stroke-width="1.7"/>
<line x1="421.0" y1="342.2" x2="421.0" y2="335.6" stroke="#000" stroke-width="1.7"/>
<line x1="430.4" y1="342.2" x2="430.4" y2="338.6" stroke="#000" stroke-width="1.7"/>
<line x1="439.8" y1="342.2" x2="439.8" y2="338.6" stroke="#000" stroke-width="1.7"/>
<line x1="449.2" y1="342.2" x2="449.2" y2="338.6" stroke="#000" stroke-width="1.7"/>
<line x1="458.6" y1="342.2" x2="458.6" y2="338.6" stroke="#000" stroke-width="1.7"/>
<line x1="468.0" y1="342.2" x2="468.0" y2="335.6" stroke="#000" stroke-width="1.7"/>
<line x1="477.4" y1="342.2" x2="477.4" y2="338.6" stroke="#000" stroke-width="1.7"/>
<line x1="486.8" y1="342.2" x2="486.8" y2="338.6" stroke="#000" stroke-width="1.7"/>
<line x1="496.2" y1="342.2" x2="496.2" y2="338.6" stroke="#000" stroke-width="1.7"/>
<line x1="505.5" y1="342.2" x2="505.5" y2="338.6" stroke="#000" stroke-width="1.7"/>
<line x1="514.9" y1="342.2" x2="514.9" y2="335.6" stroke="#000" stroke-width="1.7"/>
<line x1="524.3" y1="342.2" x2="524.3" y2="338.6" stroke="#000" stroke-width="1.7"/>
<line x1="533.7" y1="342.2" x2="533.7" y2="338.6" stroke="#000" stroke-width="1.7"/>
<line x1="343.1" y1="334.0" x2="349.4" y2="334.0" stroke="#000" stroke-width="1.8"/>
<text x="330.4" y="337.2" class="t" textLength="6.9" lengthAdjust="spacingAndGlyphs">0</text>
<line x1="343.1" y1="198.4" x2="349.4" y2="198.4" stroke="#000" stroke-width="1.8"/>
<text x="330.4" y="201.6" class="t" textLength="6.9" lengthAdjust="spacingAndGlyphs">1</text>
<line x1="343.1" y1="62.8" x2="349.4" y2="62.8" stroke="#000" stroke-width="1.8"/>
<text x="330.4" y="66.0" class="t" textLength="6.9" lengthAdjust="spacingAndGlyphs">2</text>
<text x="374.1" y="357.9" text-anchor="middle" class="t" textLength="21.3" lengthAdjust="spacingAndGlyphs">500</text>
<text x="421.0" y="357.9" text-anchor="middle" class="t" textLength="28.4" lengthAdjust="spacingAndGlyphs">1000</text>
<text x="468.0" y="357.9" text-anchor="middle" class="t" textLength="28.4" lengthAdjust="spacingAndGlyphs">1500</text>
<text x="514.9" y="357.9" text-anchor="middle" class="t" textLength="28.4" lengthAdjust="spacingAndGlyphs">2000</text>
<text x="385.8" y="372.9" class="t" textLength="115.4" lengthAdjust="spacingAndGlyphs">Raman shift (cm<tspan dy="-7.3" font-size="8.9">−1</tspan><tspan dy="7.3">)</tspan></text>
<text transform="translate(319.5,236.5) rotate(-90)" class="t" textLength="135.9" lengthAdjust="spacingAndGlyphs">Raman intensity (a.u.)</text>
<polyline points="343.40,335.67 343.65,335.85 343.90,336.02 344.15,336.12 344.40,336.12 344.65,336.05 344.90,335.96 345.15,335.86 345.40,335.79 345.65,335.77 345.90,335.79 346.15,335.82 346.40,335.84 346.65,335.87 346.90,335.97 347.15,336.11 347.40,336.20 347.65,336.15 347.90,335.98 348.15,335.80 348.40,335.70 348.65,335.72 348.90,335.80 349.15,335.89 349.40,335.91 349.65,335.83 349.90,335.69 350.15,335.55 350.40,335.47 350.65,335.48 350.90,335.59 351.15,335.77 351.40,335.98 351.65,336.21 351.90,336.41 352.15,336.53 352.40,336.53 352.65,336.42 352.90,336.31 353.15,336.29 353.40,336.41 353.65,336.63 353.90,336.84 354.15,336.96 354.40,336.93 354.65,336.75 354.90,336.49 355.15,336.24 355.40,336.09 355.65,336.10 355.90,336.26 356.15,336.50 356.40,336.76 356.65,336.95 356.90,337.02 357.15,336.97 357.40,336.86 357.65,336.75 357.90,336.69 358.15,336.68 358.40,336.75 358.65,336.86 358.90,336.96 359.15,336.98 359.40,336.89 359.65,336.74 359.90,336.61 360.15,336.56 360.40,336.60 360.65,336.69 360.90,336.79 361.15,336.85 361.40,336.86 361.65,336.85 361.90,336.88 362.15,336.99 362.40,337.13 362.65,337.26 362.90,337.36 363.15,337.41 363.40,337.40 363.65,337.30 363.90,337.15 364.15,337.01 364.40,336.91 364.65,336.89 364.90,336.91 365.15,336.95 365.40,336.95 365.65,336.91 365.90,336.85 366.15,336.82 366.40,336.86 366.65,336.93 366.90,337.01 367.15,337.07 367.40,337.11 367.65,337.13 367.90,337.09 368.15,337.00 368.40,336.92 368.65,336.89 368.90,336.91 369.15,336.91 369.40,336.81 369.65,336.62 369.90,336.40 370.15,336.28 370.40,336.31 370.65,336.48 370.90,336.68 371.15,336.84 371.40,336.90 371.65,336.87 371.90,336.78 372.15,336.72 372.40,336.71 372.65,336.77 372.90,336.85 373.15,336.96 373.40,337.05 373.65,337.10 373.90,337.13 374.15,337.15 374.40,337.18 374.65,337.21 374.90,337.22 375.15,337.24 375.40,337.26 375.65,337.23 375.90,337.13 376.15,337.03 376.40,336.99 376.65,337.06 376.90,337.18 377.15,337.26 377.40,337.25 377.65,337.14 377.90,336.98 378.15,336.82 378.40,336.70 378.65,336.64 378.90,336.57 379.15,336.46 379.40,336.29 379.65,336.14 379.90,336.05 380.15,336.04 380.40,336.06 380.65,336.09 380.90,336.12 381.15,336.17 381.40,336.23 381.65,336.25 381.90,336.21 382.15,336.11 382.40,336.00 382.65,335.92 382.90,335.86 383.15,335.73 383.40,335.51 383.65,335.24 383.90,335.06 384.15,335.07 384.40,335.27 384.65,335.52 384.90,335.71 385.15,335.79 385.40,335.79 385.65,335.71 385.90,335.59 386.15,335.44 386.40,335.29 386.65,335.20 386.90,335.20 387.15,335.23 387.40,335.23 387.65,335.18 387.90,335.12 388.15,335.04 388.40,334.88 388.65,334.63 388.90,334.32 389.15,334.06 389.40,333.96 389.65,334.02 389.90,334.19 390.15,334.39 390.40,334.54 390.65,334.61 390.90,334.62 391.15,334.56 391.40,334.41 391.65,334.20 391.90,333.98 392.15,333.81 392.40,333.75 392.65,333.75 392.90,333.77 393.15,333.77 393.40,333.77 393.65,333.82 393.90,333.89 394.15,333.93 394.40,333.89 394.65,333.80 394.90,333.71 395.15,333.69 395.40,333.75 395.65,333.87 395.90,334.00 396.15,334.07 396.40,334.07 396.65,333.99 396.90,333.84 397.15,333.68 397.40,333.57 397.65,333.56 397.90,333.63 398.15,333.74 398.40,333.84 398.65,333.89 398.90,333.87 399.15,333.79 399.40,333.70 399.65,333.63 399.90,333.60 400.15,333.54 400.40,333.43 400.65,333.29 400.90,333.17 401.15,333.13 401.40,333.15 401.65,333.20 401.90,333.22 402.15,333.19 402.40,333.17 402.65,333.18 402.90,333.24 403.15,333.33 403.40,333.37 403.65,333.34 403.90,333.26 404.15,333.18 404.40,333.16 404.65,333.23 404.90,333.37 405.15,333.53 405.40,333.66 405.65,333.76 405.90,333.82 406.15,333.85 406.40,333.84 406.65,333.78 406.90,333.70 407.15,333.64 407.40,333.62 407.65,333.65 407.90,333.70 408.15,333.68 408.40,333.58 408.65,333.43 408.90,333.31 409.15,333.28 409.40,333.32 409.65,333.35 409.90,333.36 410.15,333.35 410.40,333.36 410.65,333.42 410.90,333.52 411.15,333.61 411.40,333.59 411.65,333.45 411.90,333.25 412.15,333.07 412.40,332.93 412.65,332.84 412.90,332.77 413.15,332.71 413.40,332.69 413.65,332.69 413.90,332.66 414.15,332.52 414.40,332.26 414.65,331.95 414.90,331.72 415.15,331.64 415.40,331.68 415.65,331.75 415.90,331.75 416.15,331.64 416.40,331.43 416.65,331.20 416.90,331.02 417.15,330.96 417.40,331.02 417.65,331.13 417.90,331.23 418.15,331.25 418.40,331.15 418.65,330.97 418.90,330.76 419.15,330.60 419.40,330.51 419.65,330.48 419.90,330.46 420.15,330.38 420.40,330.22 420.65,329.96 420.90,329.63 421.15,329.29 421.40,328.96 421.65,328.68 421.90,328.45 422.15,328.23 422.40,327.99 422.65,327.68 422.90,327.28 423.15,326.82 423.40,326.35 423.65,325.93 423.90,325.60 424.15,325.40 424.40,325.32 424.65,325.34 424.90,325.37 425.15,325.34 425.40,325.20 425.65,324.95 425.90,324.61 426.15,324.24 426.40,323.90 426.65,323.62 426.90,323.40 427.15,323.21 427.40,322.98 427.65,322.67 427.90,322.27 428.15,321.81 428.40,321.33 428.65,320.92 428.90,320.61 429.15,320.39 429.40,320.20 429.65,319.96 429.90,319.63 430.15,319.22 430.40,318.81 430.65,318.45 430.90,318.13 431.15,317.80 431.40,317.46 431.65,317.14 431.90,316.88 432.15,316.68 432.40,316.45 432.65,316.15 432.90,315.79 433.15,315.45 433.40,315.14 433.65,314.85 433.90,314.54 434.15,314.16 434.40,313.71 434.65,313.23 434.90,312.77 435.15,312.36 435.40,311.99 435.65,311.64 435.90,311.32 436.15,311.08 436.40,310.89 436.65,310.64 436.90,310.26 437.15,309.74 437.40,309.21 437.65,308.74 437.90,308.36 438.15,308.03 438.40,307.71 438.65,307.36 438.90,306.96 439.15,306.48 439.40,305.95 439.65,305.43 439.90,304.96 440.15,304.51 440.40,304.02 440.65,303.45 440.90,302.84 441.15,302.24 441.40,301.71 441.65,301.26 441.90,300.81 442.15,300.30 442.40,299.70 442.65,299.03 442.90,298.33 443.15,297.63 443.40,296.92 443.65,296.18 443.90,295.36 444.15,294.49 444.40,293.62 444.65,292.80 444.90,292.05 445.15,291.33 445.40,290.61 445.65,289.84 445.90,289.08 446.15,288.37 446.40,287.75 446.65,287.14 446.90,286.43 447.15,285.53 447.40,284.45 447.65,283.30 447.90,282.20 448.15,281.19 448.40,280.23 448.65,279.24 448.90,278.18 449.15,277.06 449.40,275.93 449.65,274.84 449.90,273.79 450.15,272.78 450.40,271.83 450.65,270.92 450.90,270.03 451.15,269.09 451.30,268.46" fill="none" stroke="#1010ff" stroke-width="1.75" stroke-linejoin="round"/>
<polyline points="453.30,257.57 453.40,257.02 453.65,255.65 453.90,254.25 454.15,252.80 454.40,251.32 454.65,249.95 454.90,248.81 455.15,247.98 455.40,247.47 455.65,247.32 455.90,247.57 456.15,248.28 456.40,249.40 456.65,250.80 456.90,252.27 457.15,253.73 457.40,255.17 457.65,256.62 457.90,258.13 458.15,259.66 458.40,261.12 458.65,262.40 458.90,263.45 459.15,264.27 459.40,264.99 459.65,265.73 459.90,266.59 460.15,267.57 460.40,268.54 460.65,269.34 460.90,269.94 461.15,270.38 461.40,270.76 461.65,271.12 461.90,271.48 462.15,271.85 462.40,272.24 462.65,272.63 462.90,272.98 463.15,273.27 463.40,273.48 463.65,273.65 463.90,273.74 464.15,273.71 464.40,273.52 464.65,273.17 464.90,272.74 465.15,272.33 465.40,272.03 465.65,271.83 465.90,271.65 466.15,271.38 466.40,271.00 466.65,270.57 466.90,270.18 467.15,269.94 467.40,269.81 467.65,269.72 467.90,269.63 468.15,269.46 468.40,269.17 468.65,268.72 468.90,268.14 469.15,267.52 469.40,266.92 469.65,266.34 469.90,265.72 470.15,265.02 470.40,264.26 470.65,263.46 470.90,262.62 471.15,261.70 471.40,260.67 471.65,259.55 471.90,258.39 472.15,257.13 472.40,255.68 472.65,253.95 472.90,251.87 473.15,249.38 473.40,246.45 473.65,243.08 473.90,239.27 474.15,234.98 474.40,230.16 474.65,224.76 474.90,218.82 475.15,212.54 475.40,206.31 475.65,200.73 475.90,196.46 476.15,194.14 476.40,194.12 476.65,196.37 476.90,200.48 477.15,205.80 477.40,211.65 477.65,217.49 477.90,222.97 478.15,227.95 478.40,232.34 478.65,236.14 478.90,239.36 479.15,242.14 479.40,244.72 479.65,247.37 479.90,250.24 480.15,253.40 480.40,256.83 480.65,260.54 480.90,264.49 481.15,268.60 481.40,272.77 481.65,276.89 481.90,280.91 482.15,284.81 482.40,288.50 482.65,291.93 482.90,295.05 483.15,297.89 483.40,300.50 483.65,302.91 483.90,305.14 484.15,307.20 484.40,309.12 484.65,310.95 484.90,312.68 485.15,314.27 485.40,315.69 485.65,316.96 485.90,318.12 486.15,319.21 486.40,320.26 486.65,321.24 486.90,322.17 487.15,323.03 487.40,323.81 487.65,324.49 487.90,325.09 488.15,325.65 488.40,326.22 488.65,326.80 488.90,327.38 489.15,327.95 489.40,328.52 489.65,329.09 489.90,329.64 490.15,330.10 490.40,330.44 490.65,330.69 490.90,330.94 491.15,331.27 491.40,331.68 491.65,332.08 491.90,332.38 492.15,332.57 492.40,332.70 492.65,332.84 492.90,333.01 493.15,333.20 493.40,333.35 493.65,333.45 493.90,333.52 494.15,333.62 494.40,333.84 494.65,334.18 494.90,334.52 495.15,334.71 495.40,334.68 495.65,334.47 495.90,334.22 496.15,334.03 496.40,333.95 496.65,333.98 496.90,334.10 497.15,334.26 497.40,334.36 497.65,334.33 497.90,334.17 498.15,333.98 498.40,333.88 498.65,333.92 498.90,334.05 499.15,334.17 499.40,334.21 499.65,334.15 499.90,334.05 500.15,333.98 500.40,334.00 500.65,334.07 500.90,334.13 501.15,334.13 501.40,334.05 501.65,333.94 501.90,333.80 502.15,333.62 502.40,333.42 502.65,333.27 502.90,333.20 503.15,333.18 503.40,333.21 503.65,333.26 503.90,333.34 504.15,333.40 504.40,333.40 504.65,333.37 504.90,333.35 505.15,333.32 505.40,333.26 505.65,333.16 505.90,333.04 506.15,332.93 506.40,332.88 506.65,332.89 506.90,333.00 507.15,333.18 507.40,333.41 507.65,333.59 507.90,333.68 508.15,333.65 508.40,333.55 508.65,333.44 508.90,333.42 509.15,333.52 509.40,333.72 509.65,333.89 509.90,333.94 510.15,333.87 510.40,333.77 510.65,333.68 510.90,333.62 511.15,333.55 511.40,333.50 511.65,333.52 511.90,333.59 512.15,333.68 512.40,333.70 512.65,333.67 512.90,333.63 513.15,333.60 513.40,333.57 513.65,333.51 513.90,333.44 514.15,333.44 514.40,333.54 514.65,333.68 514.90,333.79 515.15,333.85 515.40,333.88 515.65,333.92 515.90,333.99 516.15,334.08 516.40,334.19 516.65,334.28 516.90,334.31 517.15,334.23 517.40,334.08 517.65,333.91 517.90,333.77 518.15,333.71 518.40,333.73 518.65,333.82 518.90,333.95 519.15,334.08 519.40,334.19 519.65,334.28 519.90,334.34 520.15,334.36 520.40,334.34 520.65,334.31 520.90,334.31 521.15,334.35 521.40,334.35 521.65,334.28 521.90,334.15 522.15,334.05 522.40,334.05 522.65,334.15 522.90,334.26 523.15,334.32 523.40,334.30 523.65,334.24 523.90,334.16 524.15,334.09 524.40,334.05 524.65,334.07 524.90,334.11 525.15,334.18 525.40,334.27 525.65,334.39 525.90,334.53 526.15,334.65 526.40,334.73 526.65,334.75 526.90,334.69 527.15,334.59 527.40,334.49 527.65,334.45 527.90,334.45 528.15,334.44 528.40,334.38 528.65,334.27 528.90,334.18 529.15,334.19 529.40,334.29 529.65,334.46 529.90,334.62 530.15,334.72 530.40,334.76 530.65,334.75 530.90,334.70 531.15,334.58 531.40,334.40 531.65,334.21 531.90,334.10 532.15,334.07 532.40,334.11 532.65,334.09 532.90,333.97 533.15,333.77 533.40,333.61 533.65,333.55 533.90,333.59 534.15,333.66 534.40,333.70 534.65,333.70 534.90,333.66 535.15,333.59 535.40,333.46 535.65,333.30 535.90,333.13 536.15,332.98 536.40,332.89 536.65,332.89 536.90,332.97 537.15,333.08 537.40,333.17 537.65,333.21 537.90,333.19 538.15,333.10 538.40,332.92 538.65,332.71 538.90,332.56 539.15,332.49 539.40,332.47 539.65,332.43 539.90,332.32 540.15,332.15 540.40,331.97 540.65,331.81 540.90,331.70 541.15,331.65 541.40,331.65 541.65,331.69 541.90,331.80 542.15,331.97 542.40,332.16 542.65,332.29 542.90,332.34 543.15,332.32 543.40,332.25 543.65,332.15" fill="none" stroke="#1010ff" stroke-width="1.75" stroke-linejoin="round"/>
<text x="350.4" y="328.8" class="t" fill="#1010ff" textLength="52.8" lengthAdjust="spacingAndGlyphs">9.8 J/cm<tspan dy="-7.5" font-size="8.9">2</tspan></text>
<polyline points="343.40,289.18 343.65,289.15 343.90,288.93 344.15,288.58 344.40,288.24 344.65,288.05 344.90,288.08 345.15,288.31 345.40,288.61 345.65,288.88 345.90,289.09 346.15,289.24 346.40,289.33 346.65,289.37 346.90,289.33 347.15,289.22 347.40,289.10 347.65,288.99 347.90,288.91 348.15,288.88 348.40,288.92 348.65,289.03 348.90,289.16 349.15,289.25 349.40,289.25 349.65,289.17 349.90,289.11 350.15,289.12 350.40,289.21 350.65,289.32 350.90,289.38 351.15,289.37 351.40,289.32 351.65,289.29 351.90,289.26 352.15,289.24 352.40,289.25 352.65,289.29 352.90,289.33 353.15,289.34 353.40,289.31 353.65,289.21 353.90,289.04 354.15,288.81 354.40,288.61 354.65,288.56 354.90,288.68 355.15,288.91 355.40,289.16 355.65,289.34 355.90,289.45 356.15,289.50 356.40,289.53 356.65,289.56 356.90,289.57 357.15,289.53 357.40,289.45 357.65,289.32 357.90,289.21 358.15,289.19 358.40,289.27 358.65,289.40 358.90,289.53 359.15,289.62 359.40,289.67 359.65,289.69 359.90,289.68 360.15,289.64 360.40,289.58 360.65,289.50 360.90,289.41 361.15,289.33 361.40,289.29 361.65,289.31 361.90,289.40 362.15,289.52 362.40,289.61 362.65,289.67 362.90,289.69 363.15,289.71 363.40,289.73 363.65,289.75 363.90,289.77 364.15,289.78 364.40,289.75 364.65,289.70 364.90,289.67 365.15,289.69 365.40,289.77 365.65,289.83 365.90,289.83 366.15,289.77 366.40,289.69 366.65,289.62 366.90,289.63 367.15,289.75 367.40,289.95 367.65,290.15 367.90,290.28 368.15,290.28 368.40,290.15 368.65,289.97 368.90,289.85 369.15,289.86 369.40,289.96 369.65,290.07 369.90,290.14 370.15,290.22 370.40,290.36 370.65,290.52 370.90,290.61 371.15,290.58 371.40,290.47 371.65,290.38 371.90,290.38 372.15,290.49 372.40,290.63 372.65,290.74 372.90,290.77 373.15,290.73 373.40,290.65 373.65,290.59 373.90,290.60 374.15,290.68 374.40,290.76 374.65,290.81 374.90,290.80 375.15,290.74 375.40,290.67 375.65,290.59 375.90,290.50 376.15,290.40 376.40,290.30 376.65,290.19 376.90,290.10 377.15,290.02 377.40,289.96 377.65,289.93 377.90,289.95 378.15,290.01 378.40,290.08 378.65,290.12 378.90,290.09 379.15,289.99 379.40,289.91 379.65,289.88 379.90,289.92 380.15,289.97 380.40,289.96 380.65,289.88 380.90,289.73 381.15,289.56 381.40,289.44 381.65,289.39 381.90,289.39 382.15,289.39 382.40,289.34 382.65,289.22 382.90,289.05 383.15,288.86 383.40,288.68 383.65,288.57 383.90,288.54 384.15,288.56 384.40,288.59 384.65,288.61 384.90,288.61 385.15,288.57 385.40,288.50 385.65,288.44 385.90,288.43 386.15,288.46 386.40,288.49 386.65,288.47 386.90,288.44 387.15,288.42 387.40,288.46 387.65,288.53 387.90,288.60 388.15,288.62 388.40,288.58 388.65,288.51 388.90,288.45 389.15,288.38 389.40,288.29 389.65,288.16 389.90,288.04 390.15,287.96 390.40,287.93 390.65,287.94 390.90,287.91 391.15,287.85 391.40,287.77 391.65,287.73 391.90,287.72 392.15,287.72 392.40,287.66 392.65,287.49 392.90,287.23 393.15,286.95 393.40,286.76 393.65,286.70 393.90,286.73 394.15,286.76 394.40,286.72 394.65,286.62 394.90,286.52 395.15,286.43 395.40,286.34 395.65,286.25 395.90,286.17 396.15,286.15 396.40,286.15 396.65,286.13 396.90,286.04 397.15,285.94 397.40,285.88 397.65,285.91 397.90,286.03 398.15,286.20 398.40,286.35 398.65,286.41 398.90,286.38 399.15,286.31 399.40,286.28 399.65,286.31 399.90,286.37 400.15,286.37 400.40,286.26 400.65,286.08 400.90,285.86 401.15,285.68 401.40,285.57 401.65,285.55 401.90,285.59 402.15,285.63 402.40,285.62 402.65,285.56 402.90,285.48 403.15,285.41 403.40,285.35 403.65,285.33 403.90,285.35 404.15,285.44 404.40,285.55 404.65,285.64 404.90,285.67 405.15,285.63 405.40,285.58 405.65,285.57 405.90,285.64 406.15,285.76 406.40,285.89 406.65,285.97 406.90,285.97 407.15,285.87 407.40,285.69 407.65,285.51 407.90,285.39 408.15,285.33 408.40,285.33 408.65,285.34 408.90,285.32 409.15,285.27 409.40,285.20 409.65,285.13 409.90,285.06 410.15,284.97 410.40,284.85 410.65,284.72 410.90,284.58 411.15,284.44 411.40,284.35 411.65,284.36 411.90,284.45 412.15,284.59 412.40,284.73 412.65,284.88 412.90,285.04 413.15,285.16 413.40,285.18 413.65,285.05 413.90,284.83 414.15,284.59 414.40,284.37 414.65,284.14 414.90,283.86 415.15,283.55 415.40,283.24 415.65,283.00 415.90,282.84 416.15,282.74 416.40,282.69 416.65,282.65 416.90,282.60 417.15,282.51 417.40,282.37 417.65,282.22 417.90,282.10 418.15,282.02 418.40,281.97 418.65,281.94 418.90,281.88 419.15,281.80 419.40,281.67 419.65,281.47 419.90,281.18 420.15,280.82 420.40,280.43 420.65,280.05 420.90,279.69 421.15,279.31 421.40,278.91 421.65,278.49 421.90,278.10 422.15,277.80 422.40,277.64 422.65,277.63 422.90,277.67 423.15,277.64 423.40,277.46 423.65,277.17 423.90,276.82 424.15,276.41 424.40,275.93 424.65,275.39 424.90,274.80 425.15,274.22 425.40,273.70 425.65,273.28 425.90,272.97 426.15,272.75 426.40,272.55 426.65,272.31 426.90,272.01 427.15,271.60 427.40,271.11 427.65,270.60 427.90,270.09 428.15,269.58 428.40,269.05 428.65,268.52 428.90,268.05 429.15,267.68 429.40,267.40 429.65,267.14 429.90,266.83 430.15,266.41 430.40,265.90 430.65,265.30 430.90,264.69 431.15,264.12 431.40,263.65 431.65,263.25 431.90,262.83 432.15,262.29 432.40,261.64 432.65,260.95 432.90,260.33 433.15,259.79 433.40,259.27 433.65,258.72 433.90,258.12 434.15,257.52 434.40,256.95 434.65,256.42 434.90,255.90 435.15,255.40 435.40,254.91 435.65,254.38 435.90,253.79 436.15,253.11 436.40,252.35 436.65,251.53 436.90,250.70 437.15,249.92 437.40,249.23 437.65,248.63 437.90,248.07 438.15,247.46 438.40,246.74 438.65,245.93 438.90,245.11 439.15,244.36 439.40,243.72 439.65,243.16 439.90,242.62 440.15,242.03 440.40,241.36 440.65,240.61 440.90,239.83 441.15,239.06 441.40,238.33 441.65,237.65 441.90,236.99 442.15,236.32 442.40,235.60 442.65,234.75 442.90,233.76 443.15,232.71 443.40,231.71 443.65,230.80 443.90,229.95 444.15,229.08 444.40,228.16 444.65,227.18 444.90,226.18 445.15,225.19 445.40,224.25 445.65,223.37 445.90,222.48 446.15,221.53 446.40,220.53 446.65,219.50 446.90,218.44 447.15,217.33 447.40,216.13 447.65,214.85 447.90,213.54 448.15,212.23 448.40,210.95 448.65,209.71 448.90,208.52 449.15,207.32 449.40,206.10 449.65,204.81 449.90,203.47 450.15,202.10 450.40,200.70 450.65,199.29 450.90,197.90 451.15,196.53 451.30,195.73" fill="none" stroke="#900cf8" stroke-width="1.75" stroke-linejoin="round"/>
<polyline points="453.30,185.36 453.40,184.90 453.65,183.82 453.90,182.88 454.15,182.07 454.40,181.35 454.65,180.65 454.90,179.91 455.15,179.21 455.40,178.65 455.65,178.29 455.90,178.14 456.15,178.21 456.40,178.49 456.65,178.94 456.90,179.50 457.15,180.16 457.40,180.89 457.65,181.65 457.90,182.40 458.15,183.15 458.40,183.83 458.65,184.48 458.90,185.13 459.15,185.86 459.40,186.66 459.65,187.52 459.90,188.41 460.15,189.29 460.40,190.16 460.65,191.01 460.90,191.85 461.15,192.69 461.40,193.48 461.65,194.18 461.90,194.72 462.15,195.15 462.40,195.56 462.65,195.99 462.90,196.44 463.15,196.84 463.40,197.11 463.65,197.28 463.90,197.41 464.15,197.60 464.40,197.87 464.65,198.14 464.90,198.34 465.15,198.46 465.40,198.50 465.65,198.49 465.90,198.45 466.15,198.39 466.40,198.32 466.65,198.19 466.90,197.96 467.15,197.64 467.40,197.25 467.65,196.85 467.90,196.47 468.15,196.11 468.40,195.76 468.65,195.37 468.90,194.89 469.15,194.27 469.40,193.52 469.65,192.70 469.90,191.85 470.15,191.03 470.40,190.25 470.65,189.50 470.90,188.70 471.15,187.79 471.40,186.75 471.65,185.64 471.90,184.49 472.15,183.25 472.40,181.88 472.65,180.39 472.90,178.84 473.15,177.31 473.40,175.76 473.65,174.07 473.90,172.12 474.15,169.83 474.40,167.27 474.65,164.60 474.90,162.00 475.15,159.59 475.40,157.41 475.65,155.52 475.90,153.99 476.15,152.93 476.40,152.42 476.65,152.52 476.90,153.31 477.15,154.85 477.40,157.16 477.65,160.15 477.90,163.61 478.15,167.29 478.40,170.94 478.65,174.49 478.90,177.96 479.15,181.43 479.40,184.94 479.65,188.47 479.90,192.03 480.15,195.65 480.40,199.36 480.65,203.20 480.90,207.17 481.15,211.23 481.40,215.35 481.65,219.49 481.90,223.54 482.15,227.35 482.40,230.85 482.65,234.08 482.90,237.12 483.15,240.03 483.40,242.86 483.65,245.63 483.90,248.35 484.15,250.98 484.40,253.43 484.65,255.62 484.90,257.61 485.15,259.47 485.40,261.28 485.65,263.04 485.90,264.72 486.15,266.31 486.40,267.81 486.65,269.25 486.90,270.67 487.15,272.03 487.40,273.30 487.65,274.50 487.90,275.68 488.15,276.86 488.40,277.98 488.65,278.98 488.90,279.87 489.15,280.66 489.40,281.38 489.65,282.05 489.90,282.62 490.15,283.08 490.40,283.47 490.65,283.85 490.90,284.25 491.15,284.69 491.40,285.15 491.65,285.58 491.90,285.92 492.15,286.15 492.40,286.29 492.65,286.39 492.90,286.53 493.15,286.74 493.40,286.99 493.65,287.27 493.90,287.55 494.15,287.80 494.40,288.00 494.65,288.12 494.90,288.23 495.15,288.38 495.40,288.58 495.65,288.80 495.90,288.98 496.15,289.08 496.40,289.08 496.65,289.02 496.90,288.95 497.15,288.93 497.40,288.99 497.65,289.09 497.90,289.17 498.15,289.23 498.40,289.29 498.65,289.36 498.90,289.46 499.15,289.60 499.40,289.75 499.65,289.88 499.90,289.95 500.15,289.97 500.40,289.95 500.65,289.91 500.90,289.82 501.15,289.65 501.40,289.36 501.65,289.00 501.90,288.58 502.15,288.11 502.40,287.60 502.65,287.10 502.90,286.74 503.15,286.54 503.40,286.50 503.65,286.56 503.90,286.72 504.15,286.93 504.40,287.14 504.65,287.30 504.90,287.43 505.15,287.58 505.40,287.81 505.65,288.12 505.90,288.46 506.15,288.74 506.40,288.87 506.65,288.86 506.90,288.83 507.15,288.89 507.40,289.06 507.65,289.28 507.90,289.47 508.15,289.54 508.40,289.49 508.65,289.38 508.90,289.29 509.15,289.27 509.40,289.31 509.65,289.37 509.90,289.40 510.15,289.40 510.40,289.40 510.65,289.44 510.90,289.54 511.15,289.65 511.40,289.75 511.65,289.83 511.90,289.93 512.15,290.06 512.40,290.15 512.65,290.15 512.90,290.02 513.15,289.81 513.40,289.64 513.65,289.57 513.90,289.61 514.15,289.70 514.40,289.76 514.65,289.79 514.90,289.80 515.15,289.81 515.40,289.83 515.65,289.82 515.90,289.76 516.15,289.69 516.40,289.68 516.65,289.78 516.90,289.93 517.15,289.99 517.40,289.93 517.65,289.80 517.90,289.68 518.15,289.63 518.40,289.63 518.65,289.67 518.90,289.70 519.15,289.71 519.40,289.68 519.65,289.64 519.90,289.63 520.15,289.66 520.40,289.74 520.65,289.82 520.90,289.91 521.15,290.01 521.40,290.07 521.65,290.07 521.90,290.02 522.15,289.92 522.40,289.80 522.65,289.69 522.90,289.61 523.15,289.56 523.40,289.51 523.65,289.44 523.90,289.35 524.15,289.25 524.40,289.17 524.65,289.15 524.90,289.18 525.15,289.23 525.40,289.28 525.65,289.30 525.90,289.34 526.15,289.42 526.40,289.54 526.65,289.64 526.90,289.66 527.15,289.63 527.40,289.60 527.65,289.58 527.90,289.56 528.15,289.52 528.40,289.49 528.65,289.53 528.90,289.62 529.15,289.66 529.40,289.58 529.65,289.41 529.90,289.21 530.15,289.04 530.40,288.94 530.65,288.87 530.90,288.85 531.15,288.86 531.40,288.91 531.65,288.93 531.90,288.89 532.15,288.80 532.40,288.70 532.65,288.63 532.90,288.59 533.15,288.58 533.40,288.63 533.65,288.74 533.90,288.86 534.15,288.95 534.40,288.97 534.65,288.93 534.90,288.85 535.15,288.80 535.40,288.82 535.65,288.89 535.90,288.98 536.15,289.09 536.40,289.22 536.65,289.38 536.90,289.51 537.15,289.59 537.40,289.60 537.65,289.57 537.90,289.52 538.15,289.46 538.40,289.42 538.65,289.41 538.90,289.41 539.15,289.37 539.40,289.25 539.65,289.08 539.90,288.90 540.15,288.74 540.40,288.58 540.65,288.46 540.90,288.40 541.15,288.47 541.40,288.64 541.65,288.90 541.90,289.16 542.15,289.32 542.40,289.32 542.65,289.16 542.90,288.94 543.15,288.78 543.40,288.74 543.65,288.80" fill="none" stroke="#900cf8" stroke-width="1.75" stroke-linejoin="round"/>
<text x="347.3" y="279.1" class="t" fill="#900cf8" textLength="59.7" lengthAdjust="spacingAndGlyphs">12.6 J/cm<tspan dy="-7.5" font-size="8.9">2</tspan></text>
<polyline points="343.40,242.00 343.65,242.06 343.90,242.15 344.15,242.21 344.40,242.19 344.65,242.11 344.90,242.02 345.15,242.00 345.40,242.10 345.65,242.27 345.90,242.43 346.15,242.52 346.40,242.53 346.65,242.51 346.90,242.50 347.15,242.49 347.40,242.48 347.65,242.47 347.90,242.49 348.15,242.52 348.40,242.55 348.65,242.56 348.90,242.54 349.15,242.49 349.40,242.44 349.65,242.38 349.90,242.28 350.15,242.17 350.40,242.06 350.65,242.02 350.90,242.07 351.15,242.17 351.40,242.24 351.65,242.23 351.90,242.10 352.15,241.92 352.40,241.76 352.65,241.65 352.90,241.62 353.15,241.68 353.40,241.85 353.65,242.09 353.90,242.34 354.15,242.56 354.40,242.73 354.65,242.85 354.90,242.92 355.15,242.97 355.40,243.02 355.65,243.05 355.90,243.07 356.15,243.06 356.40,243.02 356.65,242.95 356.90,242.88 357.15,242.81 357.40,242.74 357.65,242.69 357.90,242.67 358.15,242.69 358.40,242.76 358.65,242.83 358.90,242.88 359.15,242.89 359.40,242.91 359.65,243.00 359.90,243.16 360.15,243.37 360.40,243.56 360.65,243.68 360.90,243.73 361.15,243.77 361.40,243.83 361.65,243.91 361.90,244.01 362.15,244.08 362.40,244.08 362.65,244.00 362.90,243.87 363.15,243.77 363.40,243.72 363.65,243.73 363.90,243.78 364.15,243.82 364.40,243.83 364.65,243.80 364.90,243.75 365.15,243.68 365.40,243.62 365.65,243.56 365.90,243.54 366.15,243.62 366.40,243.82 366.65,244.11 366.90,244.41 367.15,244.64 367.40,244.76 367.65,244.77 367.90,244.70 368.15,244.59 368.40,244.45 368.65,244.31 368.90,244.18 369.15,244.05 369.40,243.94 369.65,243.88 369.90,243.89 370.15,243.96 370.40,244.08 370.65,244.21 370.90,244.30 371.15,244.30 371.40,244.20 371.65,244.00 371.90,243.75 372.15,243.55 372.40,243.49 372.65,243.61 372.90,243.84 373.15,244.12 373.40,244.40 373.65,244.66 373.90,244.89 374.15,245.08 374.40,245.19 374.65,245.17 374.90,245.01 375.15,244.74 375.40,244.42 375.65,244.13 375.90,243.94 376.15,243.87 376.40,243.90 376.65,243.96 376.90,243.96 377.15,243.89 377.40,243.77 377.65,243.64 377.90,243.49 378.15,243.35 378.40,243.27 378.65,243.32 378.90,243.54 379.15,243.84 379.40,244.10 379.65,244.19 379.90,244.07 380.15,243.77 380.40,243.41 380.65,243.09 380.90,242.91 381.15,242.91 381.40,243.05 381.65,243.19 381.90,243.23 382.15,243.11 382.40,242.92 382.65,242.77 382.90,242.76 383.15,242.85 383.40,242.94 383.65,242.91 383.90,242.76 384.15,242.55 384.40,242.36 384.65,242.24 384.90,242.19 385.15,242.19 385.40,242.16 385.65,242.08 385.90,241.95 386.15,241.83 386.40,241.75 386.65,241.70 386.90,241.64 387.15,241.56 387.40,241.46 387.65,241.39 387.90,241.39 388.15,241.51 388.40,241.69 388.65,241.85 388.90,241.94 389.15,241.93 389.40,241.84 389.65,241.73 389.90,241.62 390.15,241.51 390.40,241.39 390.65,241.23 390.90,241.06 391.15,240.86 391.40,240.65 391.65,240.43 391.90,240.24 392.15,240.10 392.40,240.00 392.65,239.93 392.90,239.88 393.15,239.81 393.40,239.68 393.65,239.51 393.90,239.35 394.15,239.23 394.40,239.21 394.65,239.27 394.90,239.42 395.15,239.59 395.40,239.74 395.65,239.83 395.90,239.78 396.15,239.61 396.40,239.38 396.65,239.17 396.90,239.07 397.15,239.06 397.40,239.12 397.65,239.22 397.90,239.29 398.15,239.31 398.40,239.30 398.65,239.31 398.90,239.34 399.15,239.35 399.40,239.28 399.65,239.17 399.90,239.12 400.15,239.17 400.40,239.26 400.65,239.26 400.90,239.13 401.15,238.91 401.40,238.73 401.65,238.64 401.90,238.68 402.15,238.84 402.40,239.05 402.65,239.20 402.90,239.24 403.15,239.18 403.40,239.05 403.65,238.91 403.90,238.83 404.15,238.83 404.40,238.91 404.65,238.97 404.90,238.96 405.15,238.85 405.40,238.70 405.65,238.59 405.90,238.56 406.15,238.60 406.40,238.66 406.65,238.71 406.90,238.76 407.15,238.79 407.40,238.77 407.65,238.64 407.90,238.42 408.15,238.21 408.40,238.08 408.65,238.07 408.90,238.16 409.15,238.30 409.40,238.44 409.65,238.54 409.90,238.58 410.15,238.57 410.40,238.51 410.65,238.40 410.90,238.27 411.15,238.15 411.40,238.07 411.65,238.05 411.90,238.08 412.15,238.13 412.40,238.15 412.65,238.12 412.90,238.05 413.15,237.98 413.40,237.93 413.65,237.90 413.90,237.87 414.15,237.81 414.40,237.70 414.65,237.52 414.90,237.30 415.15,237.11 415.40,237.04 415.65,237.06 415.90,237.07 416.15,237.00 416.40,236.84 416.65,236.60 416.90,236.33 417.15,236.06 417.40,235.81 417.65,235.62 417.90,235.45 418.15,235.27 418.40,235.07 418.65,234.88 418.90,234.67 419.15,234.42 419.40,234.09 419.65,233.67 419.90,233.23 420.15,232.82 420.40,232.48 420.65,232.22 420.90,232.02 421.15,231.81 421.40,231.55 421.65,231.23 421.90,230.88 422.15,230.53 422.40,230.21 422.65,229.87 422.90,229.44 423.15,228.84 423.40,228.14 423.65,227.45 423.90,226.90 424.15,226.52 424.40,226.24 424.65,225.97 424.90,225.67 425.15,225.31 425.40,224.89 425.65,224.45 425.90,224.01 426.15,223.57 426.40,223.11 426.65,222.65 426.90,222.21 427.15,221.83 427.40,221.52 427.65,221.26 427.90,221.02 428.15,220.75 428.40,220.41 428.65,220.00 428.90,219.52 429.15,219.03 429.40,218.54 429.65,218.05 429.90,217.60 430.15,217.17 430.40,216.73 430.65,216.27 430.90,215.77 431.15,215.29 431.40,214.85 431.65,214.47 431.90,214.15 432.15,213.83 432.40,213.50 432.65,213.14 432.90,212.78 433.15,212.46 433.40,212.20 433.65,211.96 433.90,211.70 434.15,211.41 434.40,211.08 434.65,210.72 434.90,210.36 435.15,209.97 435.40,209.53 435.65,209.02 435.90,208.45 436.15,207.81 436.40,207.10 436.65,206.35 436.90,205.56 437.15,204.81 437.40,204.12 437.65,203.50 437.90,202.91 438.15,202.29 438.40,201.62 438.65,200.89 438.90,200.12 439.15,199.33 439.40,198.56 439.65,197.82 439.90,197.11 440.15,196.41 440.40,195.61 440.65,194.67 440.90,193.62 441.15,192.55 441.40,191.56 441.65,190.67 441.90,189.86 442.15,189.06 442.40,188.23 442.65,187.34 442.90,186.36 443.15,185.29 443.40,184.19 443.65,183.12 443.90,182.18 444.15,181.37 444.40,180.64 444.65,179.94 444.90,179.27 445.15,178.65 445.40,178.09 445.65,177.51 445.90,176.85 446.15,176.04 446.40,175.07 446.65,173.96 446.90,172.70 447.15,171.35 447.40,169.93 447.65,168.49 447.90,167.08 448.15,165.70 448.40,164.30 448.65,162.83 448.90,161.29 449.15,159.68 449.40,158.06 449.65,156.48 449.90,155.01 450.15,153.65 450.40,152.35 450.65,151.03 450.90,149.61 451.15,148.07 451.30,147.11" fill="none" stroke="#ff08f0" stroke-width="1.75" stroke-linejoin="round"/>
<polyline points="452.90,138.27 452.90,138.27 453.15,137.15 453.40,136.14 453.65,135.23 453.90,134.36 454.15,133.50 454.40,132.67 454.65,131.95 454.90,131.44 455.15,131.18 455.40,131.14 455.65,131.23 455.90,131.40 456.15,131.64 456.40,131.96 456.65,132.36 456.90,132.85 457.15,133.41 457.40,134.02 457.65,134.64 457.90,135.25 458.15,135.86 458.40,136.46 458.65,137.05 458.90,137.65 459.15,138.29 459.40,139.01 459.65,139.79 459.90,140.60 460.15,141.42 460.40,142.20 460.65,142.88 460.90,143.43 461.15,143.83 461.40,144.17 461.65,144.55 461.90,145.02 462.15,145.56 462.40,146.08 462.65,146.52 462.90,146.88 463.15,147.18 463.40,147.44 463.65,147.69 463.90,147.90 464.15,148.02 464.40,148.01 464.65,147.89 464.90,147.74 465.15,147.61 465.40,147.51 465.65,147.45 465.90,147.43 466.15,147.43 466.40,147.45 466.65,147.46 466.90,147.44 467.15,147.32 467.40,147.10 467.65,146.77 467.90,146.36 468.15,145.87 468.40,145.26 468.65,144.54 468.90,143.77 469.15,143.01 469.40,142.31 469.65,141.67 469.90,141.05 470.15,140.39 470.40,139.64 470.65,138.80 470.90,137.86 471.15,136.80 471.40,135.60 471.65,134.25 471.90,132.74 472.15,131.08 472.40,129.26 472.65,127.28 472.90,125.19 473.15,123.00 473.40,120.72 473.65,118.39 473.90,116.11 474.15,113.98 474.40,112.09 474.65,110.47 474.90,109.13 475.15,108.11 475.40,107.45 475.65,107.23 475.90,107.50 476.15,108.24 476.40,109.47 476.65,111.15 476.90,113.22 477.15,115.60 477.40,118.19 477.65,120.94 477.90,123.72 478.15,126.46 478.40,129.16 478.65,131.83 478.90,134.47 479.15,137.13 479.40,139.76 479.65,142.34 479.90,144.92 480.15,147.58 480.40,150.43 480.65,153.53 480.90,156.87 481.15,160.41 481.40,164.07 481.65,167.78 481.90,171.50 482.15,175.15 482.40,178.70 482.65,182.13 482.90,185.44 483.15,188.63 483.40,191.71 483.65,194.68 483.90,197.50 484.15,200.17 484.40,202.68 484.65,205.03 484.90,207.28 485.15,209.49 485.40,211.62 485.65,213.63 485.90,215.50 486.15,217.26 486.40,218.94 486.65,220.58 486.90,222.17 487.15,223.63 487.40,224.88 487.65,225.91 487.90,226.77 488.15,227.58 488.40,228.41 488.65,229.31 488.90,230.23 489.15,231.16 489.40,232.10 489.65,233.04 489.90,233.98 490.15,234.90 490.40,235.74 490.65,236.47 490.90,237.08 491.15,237.60 491.40,238.03 491.65,238.40 491.90,238.73 492.15,239.10 492.40,239.51 492.65,239.93 492.90,240.31 493.15,240.67 493.40,241.05 493.65,241.48 493.90,241.92 494.15,242.31 494.40,242.60 494.65,242.76 494.90,242.84 495.15,242.86 495.40,242.85 495.65,242.81 495.90,242.76 496.15,242.71 496.40,242.68 496.65,242.69 496.90,242.78 497.15,242.96 497.40,243.25 497.65,243.60 497.90,243.93 498.15,244.12 498.40,244.15 498.65,244.08 498.90,243.99 499.15,243.94 499.40,243.89 499.65,243.80 499.90,243.68 500.15,243.51 500.40,243.31 500.65,243.12 500.90,242.97 501.15,242.89 501.40,242.81 501.65,242.66 501.90,242.44 502.15,242.14 502.40,241.76 502.65,241.33 502.90,240.91 503.15,240.56 503.40,240.30 503.65,240.18 503.90,240.21 504.15,240.35 504.40,240.57 504.65,240.83 504.90,241.12 505.15,241.41 505.40,241.69 505.65,241.97 505.90,242.22 506.15,242.42 506.40,242.56 506.65,242.68 506.90,242.82 507.15,242.97 507.40,243.11 507.65,243.23 507.90,243.36 508.15,243.47 508.40,243.54 508.65,243.54 508.90,243.49 509.15,243.47 509.40,243.53 509.65,243.63 509.90,243.73 510.15,243.78 510.40,243.78 510.65,243.74 510.90,243.67 511.15,243.60 511.40,243.56 511.65,243.58 511.90,243.63 512.15,243.65 512.40,243.62 512.65,243.57 512.90,243.52 513.15,243.47 513.40,243.44 513.65,243.45 513.90,243.56 514.15,243.80 514.40,244.11 514.65,244.39 514.90,244.54 515.15,244.55 515.40,244.45 515.65,244.31 515.90,244.18 516.15,244.10 516.40,244.06 516.65,244.02 516.90,243.98 517.15,243.96 517.40,243.98 517.65,244.04 517.90,244.08 518.15,244.03 518.40,243.91 518.65,243.77 518.90,243.73 519.15,243.84 519.40,244.06 519.65,244.29 519.90,244.39 520.15,244.30 520.40,244.10 520.65,243.92 520.90,243.85 521.15,243.88 521.40,243.93 521.65,243.92 521.90,243.86 522.15,243.82 522.40,243.84 522.65,243.87 522.90,243.86 523.15,243.79 523.40,243.72 523.65,243.65 523.90,243.61 524.15,243.58 524.40,243.57 524.65,243.60 524.90,243.70 525.15,243.83 525.40,243.94 525.65,243.97 525.90,243.90 526.15,243.76 526.40,243.62 526.65,243.61 526.90,243.75 527.15,243.94 527.40,244.04 527.65,244.01 527.90,243.91 528.15,243.81 528.40,243.74 528.65,243.67 528.90,243.64 529.15,243.68 529.40,243.82 529.65,243.98 529.90,244.08 530.15,244.10 530.40,244.09 530.65,244.06 530.90,244.03 531.15,243.97 531.40,243.89 531.65,243.79 531.90,243.70 532.15,243.63 532.40,243.62 532.65,243.68 532.90,243.74 533.15,243.72 533.40,243.60 533.65,243.42 533.90,243.25 534.15,243.15 534.40,243.14 534.65,243.20 534.90,243.29 535.15,243.37 535.40,243.43 535.65,243.50 535.90,243.59 536.15,243.68 536.40,243.73 536.65,243.74 536.90,243.75 537.15,243.80 537.40,243.91 537.65,244.06 537.90,244.18 538.15,244.22 538.40,244.13 538.65,243.96 538.90,243.77 539.15,243.64 539.40,243.59 539.65,243.57 539.90,243.53 540.15,243.47 540.40,243.45 540.65,243.50 540.90,243.61 541.15,243.73 541.40,243.78 541.65,243.76 541.90,243.67 542.15,243.56 542.40,243.48 542.65,243.46 542.90,243.46 543.15,243.43 543.40,243.37 543.65,243.34" fill="none" stroke="#ff08f0" stroke-width="1.75" stroke-linejoin="round"/>
<text x="347.3" y="231.0" class="t" fill="#ff08f0" textLength="60.1" lengthAdjust="spacingAndGlyphs">20.1 J/cm<tspan dy="-7.5" font-size="8.9">2</tspan></text>
<polyline points="343.40,198.83 343.65,198.82 343.90,198.79 344.15,198.75 344.40,198.72 344.65,198.69 344.90,198.68 345.15,198.67 345.40,198.67 345.65,198.67 345.90,198.70 346.15,198.73 346.40,198.76 346.65,198.76 346.90,198.76 347.15,198.78 347.40,198.86 347.65,198.97 347.90,199.07 348.15,199.13 348.40,199.15 348.65,199.16 348.90,199.17 349.15,199.19 349.40,199.21 349.65,199.22 349.90,199.19 350.15,199.14 350.40,199.10 350.65,199.09 350.90,199.11 351.15,199.11 351.40,199.08 351.65,199.02 351.90,198.97 352.15,198.96 352.40,199.00 352.65,199.08 352.90,199.18 353.15,199.28 353.40,199.36 353.65,199.41 353.90,199.40 354.15,199.36 354.40,199.29 354.65,199.22 354.90,199.18 355.15,199.19 355.40,199.26 355.65,199.32 355.90,199.33 356.15,199.30 356.40,199.25 356.65,199.23 356.90,199.27 357.15,199.35 357.40,199.41 357.65,199.42 357.90,199.39 358.15,199.36 358.40,199.37 358.65,199.43 358.90,199.51 359.15,199.58 359.40,199.59 359.65,199.52 359.90,199.38 360.15,199.26 360.40,199.19 360.65,199.22 360.90,199.30 361.15,199.41 361.40,199.50 361.65,199.54 361.90,199.53 362.15,199.48 362.40,199.46 362.65,199.49 362.90,199.58 363.15,199.67 363.40,199.72 363.65,199.73 363.90,199.71 364.15,199.68 364.40,199.62 364.65,199.56 364.90,199.53 365.15,199.57 365.40,199.62 365.65,199.64 365.90,199.61 366.15,199.56 366.40,199.53 366.65,199.53 366.90,199.56 367.15,199.58 367.40,199.59 367.65,199.58 367.90,199.54 368.15,199.48 368.40,199.39 368.65,199.34 368.90,199.33 369.15,199.38 369.40,199.47 369.65,199.57 369.90,199.65 370.15,199.70 370.40,199.68 370.65,199.61 370.90,199.53 371.15,199.50 371.40,199.50 371.65,199.52 371.90,199.54 372.15,199.58 372.40,199.61 372.65,199.61 372.90,199.56 373.15,199.48 373.40,199.39 373.65,199.31 373.90,199.24 374.15,199.23 374.40,199.31 374.65,199.49 374.90,199.69 375.15,199.84 375.40,199.88 375.65,199.82 375.90,199.71 376.15,199.60 376.40,199.50 376.65,199.43 376.90,199.41 377.15,199.46 377.40,199.58 377.65,199.72 377.90,199.82 378.15,199.81 378.40,199.69 378.65,199.49 378.90,199.29 379.15,199.15 379.40,199.12 379.65,199.17 379.90,199.25 380.15,199.32 380.40,199.35 380.65,199.33 380.90,199.28 381.15,199.23 381.40,199.20 381.65,199.16 381.90,199.13 382.15,199.11 382.40,199.12 382.65,199.14 382.90,199.12 383.15,199.05 383.40,198.93 383.65,198.79 383.90,198.67 384.15,198.63 384.40,198.69 384.65,198.82 384.90,198.92 385.15,198.93 385.40,198.83 385.65,198.67 385.90,198.54 386.15,198.47 386.40,198.47 386.65,198.46 386.90,198.42 387.15,198.34 387.40,198.23 387.65,198.15 387.90,198.11 388.15,198.12 388.40,198.12 388.65,198.10 388.90,198.09 389.15,198.11 389.40,198.18 389.65,198.28 389.90,198.36 390.15,198.42 390.40,198.46 390.65,198.50 390.90,198.54 391.15,198.56 391.40,198.54 391.65,198.47 391.90,198.37 392.15,198.25 392.40,198.13 392.65,198.02 392.90,197.95 393.15,197.93 393.40,197.94 393.65,197.97 393.90,197.96 394.15,197.93 394.40,197.88 394.65,197.87 394.90,197.91 395.15,197.94 395.40,197.92 395.65,197.81 395.90,197.65 396.15,197.49 396.40,197.37 396.65,197.33 396.90,197.34 397.15,197.39 397.40,197.41 397.65,197.39 397.90,197.31 398.15,197.21 398.40,197.12 398.65,197.06 398.90,197.03 399.15,197.03 399.40,197.06 399.65,197.10 399.90,197.14 400.15,197.15 400.40,197.12 400.65,197.06 400.90,196.98 401.15,196.86 401.40,196.70 401.65,196.51 401.90,196.39 402.15,196.40 402.40,196.56 402.65,196.78 402.90,196.98 403.15,197.06 403.40,197.02 403.65,196.91 403.90,196.80 404.15,196.71 404.40,196.62 404.65,196.51 404.90,196.37 405.15,196.22 405.40,196.11 405.65,196.06 405.90,196.04 406.15,196.03 406.40,196.02 406.65,196.01 406.90,196.02 407.15,196.02 407.40,196.00 407.65,195.93 407.90,195.81 408.15,195.69 408.40,195.60 408.65,195.56 408.90,195.54 409.15,195.54 409.40,195.54 409.65,195.52 409.90,195.50 410.15,195.47 410.40,195.47 410.65,195.49 410.90,195.52 411.15,195.50 411.40,195.43 411.65,195.34 411.90,195.25 412.15,195.15 412.40,195.04 412.65,194.93 412.90,194.84 413.15,194.75 413.40,194.67 413.65,194.61 413.90,194.61 414.15,194.66 414.40,194.72 414.65,194.73 414.90,194.69 415.15,194.62 415.40,194.54 415.65,194.48 415.90,194.41 416.15,194.33 416.40,194.24 416.65,194.15 416.90,194.08 417.15,194.03 417.40,193.99 417.65,193.94 417.90,193.87 418.15,193.76 418.40,193.62 418.65,193.46 418.90,193.29 419.15,193.13 419.40,192.99 419.65,192.86 419.90,192.74 420.15,192.59 420.40,192.37 420.65,192.11 420.90,191.84 421.15,191.61 421.40,191.41 421.65,191.25 421.90,191.12 422.15,190.96 422.40,190.74 422.65,190.45 422.90,190.14 423.15,189.84 423.40,189.56 423.65,189.28 423.90,189.01 424.15,188.74 424.40,188.48 424.65,188.20 424.90,187.89 425.15,187.55 425.40,187.20 425.65,186.84 425.90,186.49 426.15,186.16 426.40,185.85 426.65,185.57 426.90,185.32 427.15,185.10 427.40,184.92 427.65,184.77 427.90,184.61 428.15,184.40 428.40,184.11 428.65,183.75 428.90,183.38 429.15,183.02 429.40,182.69 429.65,182.39 429.90,182.11 430.15,181.81 430.40,181.48 430.65,181.12 430.90,180.78 431.15,180.49 431.40,180.20 431.65,179.88 431.90,179.50 432.15,179.10 432.40,178.71 432.65,178.35 432.90,177.99 433.15,177.63 433.40,177.28 433.65,176.96 433.90,176.65 434.15,176.31 434.40,175.92 434.65,175.48 434.90,175.03 435.15,174.57 435.40,174.13 435.65,173.71 435.90,173.33 436.15,172.95 436.40,172.55 436.65,172.12 436.90,171.65 437.15,171.17 437.40,170.69 437.65,170.20 437.90,169.70 438.15,169.17 438.40,168.65 438.65,168.17 438.90,167.74 439.15,167.33 439.40,166.90 439.65,166.42 439.90,165.89 440.15,165.35 440.40,164.79 440.65,164.25 440.90,163.69 441.15,163.11 441.40,162.49 441.65,161.86 441.90,161.23 442.15,160.59 442.40,159.97 442.65,159.36 442.90,158.79 443.15,158.22 443.40,157.65 443.65,157.06 443.90,156.47 444.15,155.86 444.40,155.18 444.65,154.41 444.90,153.66 445.15,152.98 445.40,152.40 445.65,151.88 445.90,151.33 446.15,150.70 446.40,149.98 446.65,149.19 446.90,148.38 447.15,147.55 447.40,146.67 447.65,145.65 447.90,144.35 448.15,142.89 448.40,141.42 448.65,140.10 448.90,138.82 449.15,137.51 449.40,136.20 449.65,134.85 449.90,133.45 450.15,131.99 450.40,130.47 450.65,128.90 450.90,127.29 451.15,125.64 451.40,123.97 451.65,122.26 451.70,121.88" fill="none" stroke="#ff0a0a" stroke-width="1.75" stroke-linejoin="round"/>
<polyline points="452.90,111.80 452.90,111.80 453.15,109.85 453.40,107.98 453.65,106.21 453.90,104.60 454.15,103.17 454.40,101.97 454.65,101.01 454.90,100.27 455.15,99.75 455.40,99.48 455.65,99.46 455.90,99.68 456.15,100.13 456.40,100.76 456.65,101.58 456.90,102.60 457.15,103.80 457.40,105.19 457.65,106.72 457.90,108.34 458.15,110.01 458.40,111.69 458.65,113.35 458.90,115.01 459.15,116.66 459.40,118.25 459.65,119.71 459.90,121.01 460.15,122.19 460.40,123.28 460.65,124.33 460.90,125.33 461.15,126.23 461.40,127.04 461.65,127.76 461.90,128.41 462.15,128.98 462.40,129.51 462.65,129.99 462.90,130.43 463.15,130.80 463.40,131.12 463.65,131.41 463.90,131.69 464.15,131.97 464.40,132.27 464.65,132.55 464.90,132.77 465.15,132.88 465.40,132.92 465.65,132.89 465.90,132.81 466.15,132.66 466.40,132.46 466.65,132.25 466.90,132.07 467.15,131.88 467.40,131.61 467.65,131.24 467.90,130.78 468.15,130.28 468.40,129.78 468.65,129.24 468.90,128.65 469.15,128.02 469.40,127.39 469.65,126.76 469.90,126.09 470.15,125.28 470.40,124.31 470.65,123.19 470.90,121.92 471.15,120.58 471.40,119.20 471.65,117.77 471.90,116.29 472.15,114.72 472.40,113.06 472.65,111.20 472.90,109.09 473.15,106.66 473.40,103.87 473.65,100.64 473.90,96.95 474.15,92.78 474.40,88.18 474.65,83.24 474.90,78.11 475.15,73.02 475.40,68.27 475.65,64.32 475.90,61.69 476.15,60.83 476.40,61.95 476.65,64.92 476.90,69.33 477.15,74.61 477.40,80.24 477.65,85.85 477.90,91.22 478.15,96.19 478.40,100.68 478.65,104.68 478.90,108.25 479.15,111.50 479.40,114.51 479.65,117.39 479.90,120.24 480.15,123.10 480.40,125.99 480.65,128.85 480.90,131.65 481.15,134.40 481.40,137.11 481.65,139.79 481.90,142.47 482.15,145.15 482.40,147.78 482.65,150.34 482.90,152.80 483.15,155.17 483.40,157.43 483.65,159.57 483.90,161.59 484.15,163.50 484.40,165.29 484.65,166.96 484.90,168.52 485.15,170.03 485.40,171.51 485.65,172.99 485.90,174.48 486.15,175.95 486.40,177.36 486.65,178.66 486.90,179.88 487.15,181.03 487.40,182.17 487.65,183.34 487.90,184.52 488.15,185.69 488.40,186.81 488.65,187.88 488.90,188.86 489.15,189.69 489.40,190.32 489.65,190.79 489.90,191.14 490.15,191.46 490.40,191.82 490.65,192.24 490.90,192.70 491.15,193.16 491.40,193.62 491.65,194.07 491.90,194.50 492.15,194.91 492.40,195.30 492.65,195.65 492.90,195.96 493.15,196.20 493.40,196.38 493.65,196.54 493.90,196.70 494.15,196.89 494.40,197.06 494.65,197.21 494.90,197.31 495.15,197.39 495.40,197.44 495.65,197.47 495.90,197.45 496.15,197.42 496.40,197.41 496.65,197.44 496.90,197.48 497.15,197.52 497.40,197.53 497.65,197.52 497.90,197.49 498.15,197.45 498.40,197.40 498.65,197.33 498.90,197.28 499.15,197.30 499.40,197.39 499.65,197.55 499.90,197.72 500.15,197.87 500.40,197.97 500.65,198.01 500.90,197.97 501.15,197.86 501.40,197.72 501.65,197.60 501.90,197.51 502.15,197.42 502.40,197.31 502.65,197.21 502.90,197.15 503.15,197.13 503.40,197.16 503.65,197.21 503.90,197.30 504.15,197.40 504.40,197.48 504.65,197.52 504.90,197.54 505.15,197.56 505.40,197.64 505.65,197.74 505.90,197.83 506.15,197.88 506.40,197.92 506.65,198.00 506.90,198.11 507.15,198.18 507.40,198.16 507.65,198.07 507.90,197.99 508.15,197.97 508.40,198.02 508.65,198.10 508.90,198.16 509.15,198.15 509.40,198.08 509.65,198.00 509.90,197.96 510.15,197.97 510.40,198.03 510.65,198.12 510.90,198.22 511.15,198.30 511.40,198.34 511.65,198.33 511.90,198.32 512.15,198.32 512.40,198.35 512.65,198.37 512.90,198.38 513.15,198.38 513.40,198.40 513.65,198.45 513.90,198.52 514.15,198.59 514.40,198.63 514.65,198.63 514.90,198.58 515.15,198.50 515.40,198.39 515.65,198.29 515.90,198.21 516.15,198.15 516.40,198.12 516.65,198.12 516.90,198.16 517.15,198.23 517.40,198.34 517.65,198.46 517.90,198.52 518.15,198.48 518.40,198.37 518.65,198.25 518.90,198.16 519.15,198.13 519.40,198.16 519.65,198.23 519.90,198.33 520.15,198.45 520.40,198.54 520.65,198.56 520.90,198.51 521.15,198.40 521.40,198.28 521.65,198.19 521.90,198.13 522.15,198.13 522.40,198.15 522.65,198.18 522.90,198.18 523.15,198.17 523.40,198.16 523.65,198.16 523.90,198.13 524.15,198.07 524.40,198.01 524.65,197.99 524.90,198.01 525.15,198.05 525.40,198.07 525.65,198.04 525.90,197.97 526.15,197.91 526.40,197.91 526.65,197.97 526.90,198.06 527.15,198.11 527.40,198.08 527.65,197.98 527.90,197.85 528.15,197.72 528.40,197.62 528.65,197.55 528.90,197.50 529.15,197.47 529.40,197.43 529.65,197.40 529.90,197.38 530.15,197.38 530.40,197.40 530.65,197.45 530.90,197.50 531.15,197.53 531.40,197.51 531.65,197.47 531.90,197.43 532.15,197.42 532.40,197.45 532.65,197.51 532.90,197.55 533.15,197.56 533.40,197.52 533.65,197.47 533.90,197.41 534.15,197.33 534.40,197.27 534.65,197.22 534.90,197.20 535.15,197.23 535.40,197.28 535.65,197.34 535.90,197.35 536.15,197.29 536.40,197.18 536.65,197.04 536.90,196.93 537.15,196.86 537.40,196.84 537.65,196.85 537.90,196.87 538.15,196.90 538.40,196.93 538.65,196.96 538.90,196.97 539.15,196.98 539.40,196.99 539.65,197.01 539.90,197.01 540.15,196.99 540.40,196.95 540.65,196.92 540.90,196.89 541.15,196.84 541.40,196.79 541.65,196.75 541.90,196.74 542.15,196.76 542.40,196.77 542.65,196.77 542.90,196.77 543.15,196.80 543.40,196.86 543.65,196.92" fill="none" stroke="#ff0a0a" stroke-width="1.75" stroke-linejoin="round"/>
<text x="348.2" y="190.9" class="t" fill="#ff0a0a" textLength="60.1" lengthAdjust="spacingAndGlyphs">34.3 J/cm<tspan dy="-7.5" font-size="8.9">2</tspan></text>
<polyline points="343.40,152.55 343.65,152.48 343.90,152.43 344.15,152.44 344.40,152.49 344.65,152.56 344.90,152.62 345.15,152.68 345.40,152.76 345.65,152.84 345.90,152.90 346.15,152.91 346.40,152.89 346.65,152.87 346.90,152.86 347.15,152.88 347.40,152.91 347.65,152.92 347.90,152.89 348.15,152.83 348.40,152.74 348.65,152.64 348.90,152.55 349.15,152.51 349.40,152.53 349.65,152.59 349.90,152.66 350.15,152.72 350.40,152.79 350.65,152.86 350.90,152.92 351.15,152.95 351.40,152.97 351.65,152.97 351.90,152.94 352.15,152.90 352.40,152.87 352.65,152.89 352.90,152.92 353.15,152.95 353.40,152.95 353.65,152.93 353.90,152.88 354.15,152.83 354.40,152.80 354.65,152.82 354.90,152.89 355.15,152.97 355.40,153.04 355.65,153.06 355.90,153.02 356.15,152.95 356.40,152.86 356.65,152.78 356.90,152.73 357.15,152.74 357.40,152.80 357.65,152.91 357.90,153.03 358.15,153.10 358.40,153.14 358.65,153.14 358.90,153.12 359.15,153.10 359.40,153.09 359.65,153.11 359.90,153.17 360.15,153.25 360.40,153.32 360.65,153.34 360.90,153.32 361.15,153.26 361.40,153.19 361.65,153.12 361.90,153.04 362.15,152.97 362.40,152.92 362.65,152.89 362.90,152.89 363.15,152.90 363.40,152.91 363.65,152.92 363.90,152.92 364.15,152.95 364.40,153.00 364.65,153.07 364.90,153.13 365.15,153.16 365.40,153.15 365.65,153.10 365.90,153.05 366.15,153.03 366.40,153.04 366.65,153.06 366.90,153.09 367.15,153.10 367.40,153.10 367.65,153.10 367.90,153.11 368.15,153.13 368.40,153.16 368.65,153.16 368.90,153.12 369.15,153.08 369.40,153.04 369.65,153.03 369.90,153.03 370.15,153.04 370.40,153.05 370.65,153.06 370.90,153.05 371.15,153.04 371.40,153.04 371.65,153.04 371.90,153.03 372.15,153.02 372.40,153.03 372.65,153.07 372.90,153.15 373.15,153.24 373.40,153.29 373.65,153.29 373.90,153.25 374.15,153.22 374.40,153.23 374.65,153.28 374.90,153.34 375.15,153.37 375.40,153.36 375.65,153.33 375.90,153.29 376.15,153.25 376.40,153.21 376.65,153.16 376.90,153.12 377.15,153.07 377.40,153.03 377.65,152.98 377.90,152.96 378.15,153.00 378.40,153.10 378.65,153.20 378.90,153.25 379.15,153.23 379.40,153.17 379.65,153.12 379.90,153.10 380.15,153.12 380.40,153.15 380.65,153.18 380.90,153.17 381.15,153.12 381.40,153.05 381.65,153.03 381.90,153.08 382.15,153.20 382.40,153.36 382.65,153.49 382.90,153.56 383.15,153.59 383.40,153.57 383.65,153.52 383.90,153.46 384.15,153.39 384.40,153.31 384.65,153.23 384.90,153.17 385.15,153.14 385.40,153.16 385.65,153.21 385.90,153.28 386.15,153.34 386.40,153.37 386.65,153.37 386.90,153.36 387.15,153.35 387.40,153.36 387.65,153.37 387.90,153.36 388.15,153.33 388.40,153.30 388.65,153.27 388.90,153.25 389.15,153.24 389.40,153.21 389.65,153.18 389.90,153.16 390.15,153.16 390.40,153.20 390.65,153.25 390.90,153.32 391.15,153.38 391.40,153.42 391.65,153.42 391.90,153.39 392.15,153.34 392.40,153.30 392.65,153.27 392.90,153.26 393.15,153.23 393.40,153.21 393.65,153.19 393.90,153.18 394.15,153.16 394.40,153.13 394.65,153.08 394.90,153.03 395.15,153.00 395.40,152.99 395.65,153.00 395.90,153.01 396.15,153.03 396.40,153.06 396.65,153.08 396.90,153.11 397.15,153.14 397.40,153.16 397.65,153.19 397.90,153.19 398.15,153.16 398.40,153.10 398.65,153.04 398.90,153.03 399.15,153.07 399.40,153.14 399.65,153.20 399.90,153.23 400.15,153.21 400.40,153.16 400.65,153.12 400.90,153.08 401.15,153.06 401.40,153.07 401.65,153.10 401.90,153.18 402.15,153.26 402.40,153.30 402.65,153.28 402.90,153.20 403.15,153.10 403.40,153.02 403.65,152.98 403.90,152.97 404.15,152.99 404.40,153.04 404.65,153.08 404.90,153.09 405.15,153.05 405.40,152.98 405.65,152.93 405.90,152.90 406.15,152.88 406.40,152.85 406.65,152.80 406.90,152.75 407.15,152.69 407.40,152.62 407.65,152.55 407.90,152.50 408.15,152.46 408.40,152.46 408.65,152.47 408.90,152.49 409.15,152.50 409.40,152.50 409.65,152.48 409.90,152.44 410.15,152.36 410.40,152.26 410.65,152.17 410.90,152.12 411.15,152.13 411.40,152.19 411.65,152.23 411.90,152.24 412.15,152.20 412.40,152.15 412.65,152.10 412.90,152.05 413.15,152.00 413.40,151.94 413.65,151.86 413.90,151.78 414.15,151.72 414.40,151.66 414.65,151.62 414.90,151.58 415.15,151.56 415.40,151.57 415.65,151.58 415.90,151.59 416.15,151.57 416.40,151.55 416.65,151.53 416.90,151.50 417.15,151.45 417.40,151.37 417.65,151.27 417.90,151.18 418.15,151.13 418.40,151.11 418.65,151.07 418.90,151.00 419.15,150.91 419.40,150.82 419.65,150.75 419.90,150.68 420.15,150.60 420.40,150.49 420.65,150.38 420.90,150.25 421.15,150.11 421.40,149.97 421.65,149.82 421.90,149.66 422.15,149.51 422.40,149.36 422.65,149.22 422.90,149.07 423.15,148.90 423.40,148.74 423.65,148.59 423.90,148.45 424.15,148.33 424.40,148.20 424.65,148.05 424.90,147.89 425.15,147.73 425.40,147.58 425.65,147.47 425.90,147.39 426.15,147.34 426.40,147.29 426.65,147.22 426.90,147.09 427.15,146.93 427.40,146.78 427.65,146.67 427.90,146.59 428.15,146.51 428.40,146.41 428.65,146.29 428.90,146.16 429.15,146.03 429.40,145.89 429.65,145.77 429.90,145.69 430.15,145.67 430.40,145.66 430.65,145.62 430.90,145.58 431.15,145.57 431.40,145.58 431.65,145.60 431.90,145.60 432.15,145.57 432.40,145.52 432.65,145.47 432.90,145.41 433.15,145.34 433.40,145.28 433.65,145.22 433.90,145.17 434.15,145.09 434.40,145.00 434.65,144.91 434.90,144.85 435.15,144.80 435.40,144.72 435.65,144.60 435.90,144.43 436.15,144.24 436.40,144.03 436.65,143.84 436.90,143.65 437.15,143.46 437.40,143.26 437.65,143.06 437.90,142.85 438.15,142.61 438.40,142.35 438.65,142.11 438.90,141.90 439.15,141.73 439.40,141.57 439.65,141.41 439.90,141.26 440.15,141.14 440.40,141.03 440.65,140.91 440.90,140.75 441.15,140.54 441.40,140.30 441.65,140.05 441.90,139.80 442.15,139.53 442.40,139.25 442.65,138.95 442.90,138.65 443.15,138.36 443.40,138.07 443.65,137.76 443.90,137.43 444.15,137.07 444.40,136.67 444.65,136.22 444.90,135.71 445.15,135.14 445.40,134.52 445.65,133.83 445.90,133.08 446.15,132.30 446.40,131.49 446.65,130.67 446.90,129.81 447.15,128.91 447.40,127.90 447.65,126.77 447.90,125.47 448.15,124.01 448.40,122.41 448.65,120.67 448.90,118.81 449.15,116.80 449.40,114.62 449.65,112.23 449.90,109.61 450.15,106.75 450.40,103.65 450.65,100.32 450.90,96.78 451.15,92.99 451.40,88.90 451.65,84.50 451.90,79.81 452.15,74.81 452.40,69.51 452.65,63.99 452.90,58.38 453.15,52.86 453.40,47.57 453.65,42.65 453.90,38.25 454.15,34.53 454.40,31.68 454.65,29.86 454.90,29.17 455.15,29.67 455.40,31.33 455.65,34.04 455.90,37.64 456.15,41.92 456.40,46.67 456.65,51.77 456.90,57.08 457.15,62.48 457.40,67.84 457.65,73.03 457.90,77.98 458.15,82.68 458.40,87.13 458.65,91.28 458.90,95.13 459.15,98.71 459.40,102.10 459.65,105.23 459.90,108.07 460.15,110.61 460.40,112.85 460.65,114.82 460.90,116.56 461.15,118.06 461.40,119.31 461.65,120.36 461.90,121.22 462.15,121.95 462.40,122.58 462.65,123.14 462.90,123.63 463.15,124.07 463.40,124.44 463.65,124.68 463.90,124.83 464.15,124.91 464.40,124.94 464.65,124.94 464.90,124.89 465.15,124.77 465.40,124.60 465.65,124.41 465.90,124.29 466.15,124.25 466.40,124.25 466.65,124.24 466.90,124.18 467.15,124.07 467.40,123.86 467.65,123.55 467.90,123.13 468.15,122.57 468.40,121.93 468.65,121.20 468.90,120.40 469.15,119.49 469.40,118.46 469.65,117.28 469.90,115.93 470.15,114.34 470.40,112.48 470.65,110.39 470.90,108.11 471.15,105.63 471.40,102.88 471.65,99.97 471.90,96.87 472.15,93.48 472.40,89.72 472.65,85.54 472.90,80.89 473.15,75.74 473.40,70.05 473.65,63.81 473.90,57.07 474.15,49.95 474.40,42.68 474.65,35.53 474.90,28.88 475.15,23.06 475.40,18.44 475.65,15.30 475.90,13.85 476.15,14.10 476.40,15.87 476.65,18.82 476.90,22.57 477.15,26.73 477.40,31.00 477.65,35.28 477.90,39.64 478.15,44.24 478.40,49.28 478.65,54.88 478.90,61.04 479.15,67.62 479.40,74.39 479.65,81.08 479.90,87.42 480.15,93.28 480.40,98.66 480.65,103.60 480.90,108.11 481.15,112.18 481.40,115.81 481.65,119.05 481.90,121.92 482.15,124.44 482.40,126.63 482.65,128.55 482.90,130.27 483.15,131.95 483.40,133.74 483.65,135.59 483.90,137.37 484.15,138.96 484.40,140.31 484.65,141.39 484.90,142.21 485.15,142.94 485.40,143.65 485.65,144.36 485.90,145.07 486.15,145.74 486.40,146.33 486.65,146.83 486.90,147.26 487.15,147.67 487.40,148.05 487.65,148.40 487.90,148.70 488.15,148.94 488.40,149.16 488.65,149.38 488.90,149.64 489.15,149.92 489.40,150.18 489.65,150.39 489.90,150.54 490.15,150.66 490.40,150.76 490.65,150.86 490.90,150.98 491.15,151.12 491.40,151.24 491.65,151.33 491.90,151.41 492.15,151.52 492.40,151.67 492.65,151.81 492.90,151.90 493.15,151.95 493.40,151.96 493.65,151.98 493.90,152.01 494.15,152.08 494.40,152.19 494.65,152.31 494.90,152.42 495.15,152.50 495.40,152.56 495.65,152.61 495.90,152.66 496.15,152.71 496.40,152.75 496.65,152.78 496.90,152.80 497.15,152.83 497.40,152.84 497.65,152.80 497.90,152.75 498.15,152.74 498.40,152.78 498.65,152.86 498.90,152.95 499.15,152.99 499.40,152.98 499.65,152.92 499.90,152.87 500.15,152.86 500.40,152.90 500.65,152.96 500.90,153.00 501.15,152.96 501.40,152.87 501.65,152.77 501.90,152.72 502.15,152.76 502.40,152.85 502.65,152.95 502.90,153.04 503.15,153.12 503.40,153.15 503.65,153.15 503.90,153.14 504.15,153.16 504.40,153.22 504.65,153.27 504.90,153.31 505.15,153.31 505.40,153.29 505.65,153.27 505.90,153.26 506.15,153.25 506.40,153.22 506.65,153.17 506.90,153.10 507.15,153.05 507.40,153.01 507.65,152.99 507.90,152.96 508.15,152.93 508.40,152.90 508.65,152.89 508.90,152.90 509.15,152.90 509.40,152.89 509.65,152.86 509.90,152.83 510.15,152.82 510.40,152.82 510.65,152.84 510.90,152.87 511.15,152.90 511.40,152.96 511.65,153.03 511.90,153.13 512.15,153.21 512.40,153.25 512.65,153.23 512.90,153.18 513.15,153.15 513.40,153.15 513.65,153.16 513.90,153.15 514.15,153.12 514.40,153.08 514.65,153.05 514.90,153.04 515.15,153.04 515.40,153.04 515.65,153.05 515.90,153.07 516.15,153.10 516.40,153.13 516.65,153.13 516.90,153.09 517.15,153.02 517.40,152.95 517.65,152.89 517.90,152.85 518.15,152.84 518.40,152.86 518.65,152.92 518.90,152.99 519.15,153.05 519.40,153.08 519.65,153.06 519.90,153.03 520.15,152.99 520.40,152.97 520.65,152.99 520.90,153.03 521.15,153.07 521.40,153.12 521.65,153.16 521.90,153.19 522.15,153.22 522.40,153.23 522.65,153.21 522.90,153.18 523.15,153.15 523.40,153.13 523.65,153.14 523.90,153.15 524.15,153.16 524.40,153.15 524.65,153.12 524.90,153.08 525.15,153.05 525.40,153.03 525.65,152.99 525.90,152.95 526.15,152.94 526.40,152.97 526.65,153.03 526.90,153.08 527.15,153.08 527.40,153.05 527.65,152.99 527.90,152.95 528.15,152.92 528.40,152.92 528.65,152.93 528.90,152.96 529.15,152.97 529.40,152.95 529.65,152.93 529.90,152.92 530.15,152.94 530.40,152.97 530.65,153.00 530.90,153.03 531.15,153.06 531.40,153.07 531.65,153.06 531.90,153.04 532.15,153.03 532.40,153.05 532.65,153.06 532.90,153.07 533.15,153.08 533.40,153.11 533.65,153.17 533.90,153.24 534.15,153.30 534.40,153.35 534.65,153.37 534.90,153.35 535.15,153.28 535.40,153.17 535.65,153.07 535.90,152.98 536.15,152.90 536.40,152.83 536.65,152.80 536.90,152.84 537.15,152.94 537.40,153.07 537.65,153.18 537.90,153.24 538.15,153.29 538.40,153.32 538.65,153.34 538.90,153.36 539.15,153.35 539.40,153.31 539.65,153.25 539.90,153.19 540.15,153.18 540.40,153.24 540.65,153.33 540.90,153.42 541.15,153.49 541.40,153.52 541.65,153.53 541.90,153.51 542.15,153.47 542.40,153.42 542.65,153.37 542.90,153.32 543.15,153.27 543.40,153.25 543.65,153.26" fill="none" stroke="#ff7d00" stroke-width="1.6" stroke-linejoin="round"/>
<text x="350.0" y="144.7" class="t" fill="#ff7d00" textLength="59.8" lengthAdjust="spacingAndGlyphs">45.0 J/cm<tspan dy="-7.5" font-size="8.9">2</tspan></text>
<text x="123.9" y="403.8" text-anchor="middle" class="c">(<tspan font-weight="bold">a</tspan>)</text>
<text x="427.9" y="403.7" text-anchor="middle" class="c">(<tspan font-weight="bold">b</tspan>)</text>
</svg>
</body></html>
